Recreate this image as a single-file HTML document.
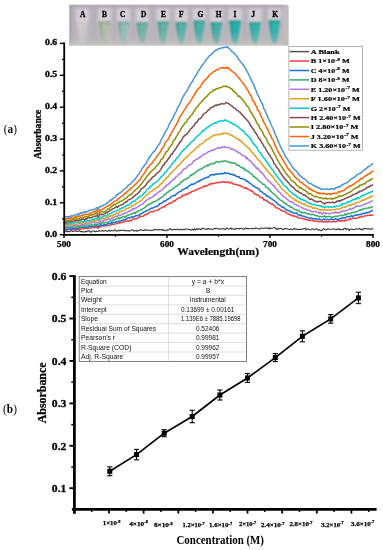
<!DOCTYPE html>
<html><head><meta charset="utf-8"><title>Absorbance spectra and calibration</title>
<style>
html,body{margin:0;padding:0;background:#fff;}
body{width:383px;height:550px;overflow:hidden;}
svg{display:block;}
</style></head><body>
<svg width="383" height="550" viewBox="0 0 383 550">
<defs>
<filter id="blur1" x="-20%" y="-20%" width="140%" height="140%"><feGaussianBlur stdDeviation="0.9"/></filter>
<filter id="blur2" x="-20%" y="-20%" width="140%" height="140%"><feGaussianBlur stdDeviation="1.6"/></filter>
<clipPath id="photoclip"><rect x="69.4" y="4.7" width="219.1" height="40.7"/></clipPath>
</defs>
<rect width="383" height="550" fill="#fff"/>

<g fill="none" stroke-width="1.5" stroke-linejoin="round">
<path d="M64.0,231.2 65.0,231.0 66.1,231.3 67.1,231.6 68.1,231.4 69.2,231.7 70.2,231.1 71.2,230.5 72.2,231.4 73.3,231.5 74.3,230.9 75.3,230.9 76.4,231.1 77.4,231.6 78.4,231.1 79.5,230.7 80.5,231.8 81.5,231.3 82.5,232.0 83.6,231.7 84.6,232.0 85.6,231.2 86.7,231.7 87.7,230.9 88.7,230.9 89.8,231.1 90.8,232.3 91.8,231.2 92.8,231.0 93.9,230.9 94.9,231.7 95.9,231.2 97.0,231.4 98.0,231.3 99.0,230.4 100.1,231.3 101.1,230.9 102.1,230.4 103.1,231.1 104.2,230.9 105.2,230.8 106.2,230.8 107.3,231.4 108.3,230.7 109.3,230.1 110.3,231.5 111.4,230.3 112.4,230.7 113.4,231.0 114.5,229.7 115.5,230.3 116.5,231.3 117.6,230.6 118.6,230.4 119.6,230.7 120.7,230.3 121.7,230.6 122.7,230.3 123.7,229.9 124.8,230.9 125.8,230.5 126.8,230.8 127.9,230.5 128.9,231.1 129.9,230.8 130.9,230.6 132.0,230.0 133.0,229.9 134.0,231.1 135.1,230.8 136.1,230.1 137.1,231.4 138.2,230.6 139.2,230.4 140.2,229.7 141.2,229.9 142.3,230.4 143.3,230.4 144.3,230.4 145.4,229.4 146.4,230.4 147.4,230.3 148.5,230.0 149.5,230.2 150.5,230.2 151.6,230.6 152.6,230.0 153.6,230.2 154.6,229.4 155.7,229.6 156.7,230.0 157.7,229.6 158.8,230.1 159.8,229.3 160.8,229.9 161.9,229.5 162.9,230.5 163.9,229.6 164.9,230.6 166.0,230.8 167.0,229.9 168.0,230.1 169.1,229.6 170.1,228.5 171.1,230.0 172.2,229.9 173.2,229.5 174.2,229.3 175.2,229.6 176.3,229.6 177.3,229.1 178.3,229.2 179.4,230.0 180.4,229.5 181.4,229.4 182.4,229.9 183.5,229.2 184.5,229.8 185.5,228.8 186.6,229.2 187.6,229.2 188.6,229.6 189.7,229.3 190.7,230.2 191.7,229.8 192.8,229.0 193.8,230.3 194.8,228.7 195.8,230.0 196.9,228.7 197.9,229.5 198.9,228.7 200.0,229.0 201.0,229.8 202.0,228.4 203.1,228.3 204.1,229.0 205.1,229.1 206.1,229.0 207.2,229.4 208.2,228.3 209.2,229.2 210.3,228.9 211.3,229.3 212.3,229.2 213.3,229.5 214.4,228.2 215.4,228.9 216.4,228.3 217.5,228.8 218.5,229.1 219.5,228.9 220.6,229.0 221.6,228.7 222.6,228.9 223.7,228.8 224.7,229.4 225.7,229.1 226.7,227.8 227.8,229.0 228.8,229.2 229.8,228.5 230.9,227.9 231.9,229.4 232.9,228.7 234.0,228.9 235.0,229.5 236.0,228.2 237.0,228.6 238.1,228.6 239.1,229.0 240.1,228.3 241.2,228.8 242.2,228.6 243.2,229.1 244.2,229.2 245.3,227.9 246.3,228.8 247.3,228.4 248.4,228.6 249.4,228.8 250.4,228.8 251.5,228.2 252.5,228.7 253.5,228.6 254.6,228.5 255.6,227.9 256.6,228.2 257.6,228.3 258.7,228.8 259.7,229.2 260.7,228.0 261.8,228.0 262.8,228.6 263.8,228.2 264.9,228.1 265.9,228.1 266.9,228.0 267.9,228.7 269.0,227.7 270.0,229.1 271.0,228.0 272.1,228.2 273.1,228.0 274.1,227.5 275.1,227.7 276.2,229.1 277.2,229.4 278.2,228.1 279.3,229.1 280.3,228.6 281.3,228.2 282.4,229.4 283.4,229.7 284.4,228.5 285.5,228.6 286.5,228.8 287.5,228.7 288.5,229.2 289.6,229.5 290.6,228.8 291.6,229.3 292.7,229.6 293.7,228.6 294.7,228.9 295.8,228.7 296.8,229.4 297.8,229.3 298.8,229.5 299.9,229.4 300.9,228.9 301.9,229.4 303.0,228.9 304.0,228.9 305.0,228.1 306.1,229.8 307.1,228.7 308.1,229.2 309.1,229.2 310.2,229.9 311.2,229.4 312.2,228.8 313.3,229.3 314.3,229.2 315.3,229.4 316.4,228.7 317.4,229.3 318.4,230.4 319.4,229.6 320.5,230.3 321.5,230.9 322.5,229.6 323.6,228.6 324.6,229.3 325.6,229.9 326.7,229.8 327.7,228.7 328.7,229.2 329.7,229.3 330.8,229.3 331.8,229.3 332.8,228.9 333.9,229.0 334.9,229.2 335.9,229.8 336.9,229.0 338.0,229.6 339.0,228.7 340.0,229.9 341.1,229.3 342.1,229.3 343.1,229.9 344.2,228.4 345.2,228.5 346.2,229.5 347.2,228.8 348.3,229.0 349.3,230.6 350.3,229.1 351.4,229.2 352.4,229.2 353.4,229.7 354.5,229.3 355.5,229.3 356.5,228.6 357.6,229.0 358.6,229.2 359.6,228.4 360.6,229.4 361.7,229.3 362.7,230.0 363.7,228.3 364.8,228.6 365.8,228.6 366.8,228.7 367.9,229.0 368.9,228.9 369.9,229.1 370.9,229.1 372.0,229.0 373.0,228.2" stroke="#3a3a3a" stroke-width="1.1"/>
<path d="M64.0,229.7 65.0,229.8 66.1,230.0 67.1,229.9 68.1,229.0 69.2,229.4 70.2,229.5 71.2,229.6 72.2,229.8 73.3,229.3 74.3,228.9 75.3,229.3 76.4,229.2 77.4,229.1 78.4,228.9 79.5,229.5 80.5,228.9 81.5,229.0 82.5,228.3 83.6,228.8 84.6,228.2 85.6,227.8 86.7,228.4 87.7,228.4 88.7,228.0 89.8,228.0 90.8,228.2 91.8,227.6 92.8,226.9 93.9,227.7 94.9,227.6 95.9,227.5 97.0,226.7 98.0,228.3 99.0,227.7 100.1,226.1 101.1,226.8 102.1,226.0 103.1,225.7 104.2,226.0 105.2,225.8 106.2,225.0 107.3,225.7 108.3,225.6 109.3,225.6 110.3,224.9 111.4,224.1 112.4,224.0 113.4,224.5 114.5,224.3 115.5,223.9 116.5,223.4 117.6,223.4 118.6,223.0 119.6,222.7 120.7,222.7 121.7,222.4 122.7,222.1 123.7,222.0 124.8,221.5 125.8,220.7 126.8,220.9 127.9,220.9 128.9,221.2 129.9,220.2 130.9,220.8 132.0,220.3 133.0,219.1 134.0,218.8 135.1,218.8 136.1,219.1 137.1,218.3 138.2,218.0 139.2,217.1 140.2,216.1 141.2,216.5 142.3,216.4 143.3,216.1 144.3,215.2 145.4,214.7 146.4,214.6 147.4,213.6 148.5,213.7 149.5,212.4 150.5,212.0 151.6,211.6 152.6,211.8 153.6,211.0 154.6,210.9 155.7,210.6 156.7,210.2 157.7,210.1 158.8,209.7 159.8,208.4 160.8,208.3 161.9,207.6 162.9,206.7 163.9,207.2 164.9,206.2 166.0,205.3 167.0,204.7 168.0,204.4 169.1,203.3 170.1,203.1 171.1,203.1 172.2,202.4 173.2,201.2 174.2,200.8 175.2,201.1 176.3,199.3 177.3,199.0 178.3,198.1 179.4,198.1 180.4,197.5 181.4,197.2 182.4,195.2 183.5,195.7 184.5,194.5 185.5,194.9 186.6,194.1 187.6,194.4 188.6,193.4 189.7,192.4 190.7,192.8 191.7,191.4 192.8,191.1 193.8,191.2 194.8,190.5 195.8,190.0 196.9,189.3 197.9,189.0 198.9,188.7 200.0,188.1 201.0,187.9 202.0,187.6 203.1,186.7 204.1,186.0 205.1,186.5 206.1,185.5 207.2,185.4 208.2,185.2 209.2,184.1 210.3,184.3 211.3,183.3 212.3,183.9 213.3,183.2 214.4,183.2 215.4,183.2 216.4,182.6 217.5,182.7 218.5,182.2 219.5,182.4 220.6,182.6 221.6,182.1 222.6,182.0 223.7,181.6 224.7,182.3 225.7,182.0 226.7,182.6 227.8,181.8 228.8,182.6 229.8,183.1 230.9,182.8 231.9,182.6 232.9,183.9 234.0,184.0 235.0,184.2 236.0,184.7 237.0,184.5 238.1,185.3 239.1,185.6 240.1,185.5 241.2,186.4 242.2,186.4 243.2,187.3 244.2,187.9 245.3,188.6 246.3,187.6 247.3,189.0 248.4,189.3 249.4,190.0 250.4,190.5 251.5,191.2 252.5,191.1 253.5,192.9 254.6,193.7 255.6,194.1 256.6,194.9 257.6,194.8 258.7,195.4 259.7,196.8 260.7,197.6 261.8,197.8 262.8,197.8 263.8,200.1 264.9,199.5 265.9,200.7 266.9,200.6 267.9,202.0 269.0,202.4 270.0,203.5 271.0,203.9 272.1,203.7 273.1,204.6 274.1,205.8 275.1,206.7 276.2,207.8 277.2,207.9 278.2,208.4 279.3,209.0 280.3,209.6 281.3,210.6 282.4,210.8 283.4,211.3 284.4,211.4 285.5,211.7 286.5,213.0 287.5,213.7 288.5,213.9 289.6,214.5 290.6,215.0 291.6,215.1 292.7,215.9 293.7,215.7 294.7,216.3 295.8,216.5 296.8,217.0 297.8,217.5 298.8,217.8 299.9,217.9 300.9,218.2 301.9,218.2 303.0,218.5 304.0,219.3 305.0,219.0 306.1,219.7 307.1,219.7 308.1,219.8 309.1,220.7 310.2,220.1 311.2,220.2 312.2,220.6 313.3,220.8 314.3,221.0 315.3,221.3 316.4,221.2 317.4,221.4 318.4,221.3 319.4,221.9 320.5,221.4 321.5,221.5 322.5,221.7 323.6,221.8 324.6,221.5 325.6,222.3 326.7,221.6 327.7,221.7 328.7,221.6 329.7,221.6 330.8,222.0 331.8,221.8 332.8,221.4 333.9,221.4 334.9,221.4 335.9,222.0 336.9,221.1 338.0,220.8 339.0,220.7 340.0,220.8 341.1,221.4 342.1,220.3 343.1,220.5 344.2,221.2 345.2,219.9 346.2,220.5 347.2,220.2 348.3,219.8 349.3,218.8 350.3,219.3 351.4,218.8 352.4,218.1 353.4,217.9 354.5,218.3 355.5,218.2 356.5,218.4 357.6,217.9 358.6,217.3 359.6,217.1 360.6,217.0 361.7,216.5 362.7,216.9 363.7,216.4 364.8,215.9 365.8,215.8 366.8,215.3 367.9,215.4 368.9,215.4 369.9,215.0 370.9,215.3 372.0,215.3 373.0,214.2" stroke="#F14040"/>
<path d="M64.0,229.1 65.0,228.9 66.1,229.6 67.1,229.0 68.1,229.0 69.2,229.1 70.2,229.5 71.2,228.7 72.2,228.2 73.3,228.3 74.3,228.6 75.3,228.2 76.4,227.9 77.4,229.1 78.4,228.0 79.5,227.7 80.5,227.5 81.5,227.0 82.5,227.2 83.6,227.4 84.6,227.3 85.6,227.0 86.7,227.4 87.7,227.1 88.7,226.6 89.8,226.1 90.8,226.8 91.8,226.6 92.8,226.4 93.9,225.9 94.9,226.3 95.9,225.3 97.0,226.0 98.0,226.7 99.0,226.1 100.1,225.0 101.1,224.8 102.1,225.6 103.1,225.3 104.2,224.6 105.2,224.8 106.2,225.0 107.3,223.7 108.3,223.7 109.3,223.4 110.3,223.5 111.4,222.7 112.4,222.9 113.4,222.1 114.5,222.6 115.5,222.3 116.5,221.7 117.6,221.8 118.6,221.0 119.6,220.9 120.7,221.1 121.7,220.4 122.7,220.3 123.7,219.5 124.8,219.8 125.8,219.4 126.8,218.5 127.9,217.8 128.9,217.6 129.9,218.0 130.9,217.6 132.0,216.7 133.0,217.0 134.0,217.0 135.1,216.2 136.1,215.7 137.1,215.7 138.2,215.6 139.2,215.1 140.2,213.9 141.2,213.9 142.3,213.1 143.3,212.5 144.3,211.7 145.4,211.5 146.4,210.6 147.4,210.6 148.5,209.9 149.5,209.6 150.5,208.3 151.6,208.3 152.6,208.2 153.6,207.6 154.6,207.1 155.7,206.3 156.7,206.7 157.7,206.0 158.8,205.2 159.8,203.5 160.8,203.5 161.9,203.3 162.9,202.3 163.9,201.1 164.9,201.3 166.0,200.7 167.0,199.5 168.0,199.1 169.1,198.4 170.1,198.2 171.1,196.6 172.2,196.1 173.2,195.9 174.2,195.2 175.2,195.6 176.3,193.9 177.3,193.5 178.3,192.5 179.4,191.7 180.4,191.4 181.4,191.2 182.4,189.7 183.5,189.5 184.5,188.8 185.5,188.4 186.6,187.7 187.6,187.9 188.6,186.0 189.7,185.8 190.7,184.9 191.7,184.0 192.8,184.2 193.8,184.3 194.8,183.3 195.8,182.9 196.9,182.1 197.9,181.3 198.9,181.6 200.0,180.2 201.0,180.4 202.0,179.2 203.1,178.9 204.1,178.5 205.1,178.0 206.1,177.7 207.2,177.3 208.2,177.3 209.2,176.2 210.3,175.1 211.3,174.7 212.3,174.7 213.3,174.7 214.4,175.0 215.4,173.9 216.4,174.3 217.5,174.1 218.5,174.0 219.5,173.7 220.6,173.8 221.6,173.5 222.6,173.8 223.7,173.5 224.7,172.5 225.7,173.4 226.7,173.4 227.8,173.2 228.8,173.3 229.8,174.3 230.9,174.3 231.9,174.2 232.9,174.8 234.0,175.2 235.0,175.0 236.0,176.3 237.0,176.4 238.1,177.0 239.1,176.7 240.1,178.5 241.2,178.4 242.2,178.9 243.2,178.9 244.2,179.4 245.3,179.7 246.3,181.4 247.3,181.1 248.4,182.1 249.4,183.0 250.4,183.2 251.5,184.5 252.5,185.6 253.5,185.7 254.6,186.9 255.6,187.3 256.6,187.7 257.6,188.5 258.7,188.8 259.7,190.2 260.7,191.5 261.8,191.9 262.8,192.8 263.8,193.7 264.9,193.8 265.9,195.0 266.9,196.2 267.9,196.0 269.0,197.0 270.0,197.6 271.0,198.4 272.1,199.0 273.1,200.0 274.1,200.4 275.1,201.5 276.2,202.4 277.2,203.2 278.2,204.6 279.3,204.9 280.3,205.6 281.3,206.1 282.4,207.4 283.4,206.9 284.4,208.1 285.5,209.2 286.5,210.0 287.5,210.0 288.5,210.5 289.6,211.2 290.6,211.4 291.6,212.2 292.7,212.2 293.7,213.1 294.7,213.3 295.8,213.3 296.8,213.0 297.8,214.8 298.8,214.9 299.9,215.3 300.9,215.0 301.9,216.1 303.0,216.1 304.0,216.2 305.0,216.8 306.1,217.1 307.1,217.2 308.1,218.0 309.1,218.0 310.2,217.9 311.2,217.9 312.2,218.3 313.3,219.1 314.3,218.8 315.3,218.5 316.4,218.7 317.4,219.1 318.4,219.5 319.4,219.0 320.5,219.6 321.5,219.9 322.5,219.8 323.6,219.0 324.6,219.5 325.6,219.2 326.7,219.8 327.7,219.3 328.7,219.9 329.7,219.7 330.8,218.7 331.8,219.3 332.8,219.7 333.9,219.5 334.9,219.2 335.9,218.8 336.9,219.3 338.0,219.7 339.0,219.0 340.0,218.7 341.1,218.5 342.1,217.8 343.1,218.0 344.2,217.6 345.2,218.1 346.2,217.2 347.2,216.5 348.3,216.8 349.3,216.8 350.3,216.6 351.4,215.7 352.4,216.5 353.4,215.9 354.5,215.5 355.5,215.1 356.5,215.3 357.6,214.8 358.6,214.8 359.6,214.4 360.6,214.2 361.7,214.4 362.7,213.7 363.7,213.1 364.8,213.6 365.8,213.0 366.8,212.4 367.9,212.8 368.9,212.1 369.9,212.3 370.9,211.2 372.0,210.5 373.0,210.4" stroke="#1A6FDF"/>
<path d="M64.0,228.1 65.0,227.6 66.1,227.8 67.1,227.7 68.1,227.0 69.2,228.0 70.2,227.0 71.2,227.4 72.2,226.7 73.3,227.1 74.3,227.3 75.3,226.9 76.4,226.6 77.4,226.7 78.4,226.5 79.5,226.7 80.5,227.2 81.5,226.0 82.5,225.9 83.6,226.0 84.6,225.9 85.6,225.4 86.7,225.9 87.7,225.8 88.7,225.5 89.8,224.8 90.8,225.7 91.8,224.6 92.8,225.1 93.9,225.2 94.9,224.1 95.9,224.2 97.0,224.3 98.0,225.1 99.0,224.0 100.1,223.0 101.1,223.5 102.1,223.0 103.1,222.8 104.2,223.1 105.2,222.5 106.2,222.4 107.3,222.3 108.3,222.0 109.3,221.4 110.3,221.1 111.4,221.0 112.4,220.6 113.4,219.7 114.5,219.8 115.5,219.2 116.5,218.8 117.6,218.7 118.6,217.7 119.6,218.6 120.7,217.7 121.7,217.8 122.7,216.6 123.7,216.3 124.8,217.4 125.8,216.6 126.8,215.7 127.9,215.2 128.9,214.9 129.9,214.8 130.9,214.2 132.0,213.7 133.0,213.5 134.0,212.7 135.1,213.5 136.1,211.9 137.1,212.1 138.2,210.8 139.2,210.7 140.2,210.4 141.2,209.4 142.3,209.2 143.3,208.5 144.3,208.1 145.4,206.8 146.4,206.0 147.4,205.1 148.5,204.9 149.5,203.9 150.5,203.7 151.6,203.2 152.6,202.4 153.6,201.7 154.6,201.7 155.7,201.1 156.7,200.5 157.7,199.8 158.8,199.5 159.8,198.1 160.8,198.0 161.9,196.9 162.9,196.6 163.9,195.3 164.9,194.5 166.0,194.0 167.0,192.3 168.0,192.2 169.1,190.9 170.1,190.4 171.1,190.3 172.2,189.4 173.2,188.3 174.2,187.7 175.2,186.9 176.3,186.2 177.3,186.0 178.3,184.5 179.4,184.4 180.4,182.5 181.4,182.1 182.4,181.3 183.5,180.4 184.5,179.5 185.5,179.5 186.6,178.9 187.6,178.0 188.6,177.8 189.7,176.7 190.7,175.0 191.7,175.3 192.8,173.9 193.8,174.0 194.8,172.7 195.8,172.2 196.9,171.5 197.9,170.6 198.9,169.5 200.0,169.5 201.0,168.9 202.0,168.8 203.1,167.6 204.1,167.3 205.1,166.4 206.1,166.2 207.2,165.0 208.2,165.9 209.2,164.7 210.3,163.8 211.3,163.9 212.3,163.8 213.3,163.2 214.4,163.4 215.4,162.5 216.4,161.4 217.5,161.7 218.5,162.3 219.5,162.1 220.6,161.7 221.6,161.0 222.6,161.6 223.7,161.5 224.7,160.9 225.7,160.9 226.7,161.3 227.8,161.7 228.8,162.1 229.8,162.1 230.9,163.1 231.9,162.4 232.9,163.3 234.0,163.3 235.0,163.2 236.0,163.9 237.0,165.3 238.1,165.1 239.1,165.5 240.1,166.7 241.2,167.4 242.2,167.6 243.2,168.8 244.2,168.2 245.3,170.3 246.3,170.5 247.3,170.9 248.4,171.7 249.4,172.4 250.4,173.2 251.5,174.2 252.5,174.5 253.5,176.7 254.6,176.7 255.6,177.9 256.6,178.5 257.6,179.4 258.7,180.8 259.7,181.6 260.7,181.9 261.8,183.0 262.8,184.3 263.8,184.2 264.9,185.0 265.9,187.4 266.9,187.6 267.9,187.7 269.0,189.2 270.0,190.3 271.0,191.4 272.1,192.5 273.1,193.3 274.1,194.4 275.1,194.9 276.2,196.4 277.2,197.3 278.2,198.5 279.3,198.9 280.3,200.1 281.3,200.7 282.4,201.0 283.4,202.1 284.4,202.8 285.5,203.6 286.5,204.4 287.5,205.1 288.5,205.8 289.6,206.0 290.6,207.3 291.6,207.0 292.7,208.0 293.7,208.9 294.7,209.2 295.8,209.8 296.8,209.9 297.8,210.7 298.8,210.4 299.9,211.5 300.9,212.4 301.9,212.2 303.0,213.0 304.0,212.6 305.0,212.5 306.1,213.0 307.1,214.0 308.1,214.1 309.1,213.5 310.2,214.3 311.2,214.7 312.2,214.6 313.3,214.3 314.3,215.0 315.3,215.6 316.4,215.7 317.4,215.7 318.4,216.4 319.4,216.7 320.5,216.4 321.5,216.9 322.5,216.6 323.6,216.6 324.6,215.8 325.6,217.0 326.7,216.8 327.7,216.8 328.7,216.6 329.7,216.4 330.8,216.9 331.8,217.0 332.8,217.2 333.9,216.8 334.9,216.2 335.9,216.2 336.9,216.5 338.0,216.1 339.0,215.8 340.0,215.4 341.1,215.6 342.1,215.2 343.1,215.6 344.2,215.1 345.2,213.8 346.2,215.0 347.2,214.0 348.3,213.5 349.3,213.5 350.3,213.4 351.4,212.8 352.4,212.5 353.4,212.3 354.5,212.7 355.5,211.7 356.5,211.7 357.6,211.3 358.6,210.7 359.6,210.2 360.6,209.8 361.7,210.1 362.7,209.2 363.7,208.8 364.8,208.5 365.8,208.1 366.8,208.4 367.9,208.1 368.9,207.5 369.9,208.0 370.9,207.1 372.0,207.1 373.0,206.7" stroke="#37AD6B"/>
<path d="M64.0,227.3 65.0,226.9 66.1,226.5 67.1,226.0 68.1,225.9 69.2,226.2 70.2,226.1 71.2,226.3 72.2,225.7 73.3,225.8 74.3,225.4 75.3,224.8 76.4,225.4 77.4,225.8 78.4,225.4 79.5,225.5 80.5,225.3 81.5,224.2 82.5,224.5 83.6,225.0 84.6,224.0 85.6,223.6 86.7,224.1 87.7,224.1 88.7,223.8 89.8,223.4 90.8,223.1 91.8,222.7 92.8,222.5 93.9,222.4 94.9,222.1 95.9,221.9 97.0,222.4 98.0,223.0 99.0,222.2 100.1,221.5 101.1,220.9 102.1,221.2 103.1,221.2 104.2,220.1 105.2,220.1 106.2,220.0 107.3,219.4 108.3,219.0 109.3,218.9 110.3,219.5 111.4,218.4 112.4,218.0 113.4,217.8 114.5,217.0 115.5,216.2 116.5,216.5 117.6,216.4 118.6,214.8 119.6,215.4 120.7,215.3 121.7,214.4 122.7,213.9 123.7,213.9 124.8,212.9 125.8,213.0 126.8,212.7 127.9,211.8 128.9,211.1 129.9,211.2 130.9,210.4 132.0,210.0 133.0,208.4 134.0,209.2 135.1,207.9 136.1,207.9 137.1,207.3 138.2,206.4 139.2,205.7 140.2,204.9 141.2,204.6 142.3,204.2 143.3,203.4 144.3,202.2 145.4,201.3 146.4,200.2 147.4,199.8 148.5,198.8 149.5,197.9 150.5,197.7 151.6,197.7 152.6,196.9 153.6,196.4 154.6,194.6 155.7,194.9 156.7,193.4 157.7,193.0 158.8,191.8 159.8,191.2 160.8,190.8 161.9,190.0 162.9,188.9 163.9,187.9 164.9,187.2 166.0,186.1 167.0,184.6 168.0,184.9 169.1,183.2 170.1,182.8 171.1,181.4 172.2,180.3 173.2,179.7 174.2,178.4 175.2,178.4 176.3,176.4 177.3,176.1 178.3,174.6 179.4,173.7 180.4,173.7 181.4,172.0 182.4,170.7 183.5,169.3 184.5,169.0 185.5,168.2 186.6,168.0 187.6,166.2 188.6,165.3 189.7,165.1 190.7,164.4 191.7,164.1 192.8,162.3 193.8,160.8 194.8,160.7 195.8,159.6 196.9,159.1 197.9,158.9 198.9,157.3 200.0,157.6 201.0,156.5 202.0,155.6 203.1,154.7 204.1,154.2 205.1,153.6 206.1,153.4 207.2,152.9 208.2,151.8 209.2,151.5 210.3,151.2 211.3,150.7 212.3,150.0 213.3,150.2 214.4,149.6 215.4,149.4 216.4,148.4 217.5,148.1 218.5,147.2 219.5,148.3 220.6,147.8 221.6,147.0 222.6,147.3 223.7,147.3 224.7,146.5 225.7,147.3 226.7,147.6 227.8,147.7 228.8,147.4 229.8,147.8 230.9,148.9 231.9,149.3 232.9,149.2 234.0,149.7 235.0,150.6 236.0,150.7 237.0,151.3 238.1,152.8 239.1,152.9 240.1,153.2 241.2,154.3 242.2,155.5 243.2,155.5 244.2,155.9 245.3,156.3 246.3,158.6 247.3,157.6 248.4,160.0 249.4,160.1 250.4,161.0 251.5,162.2 252.5,163.5 253.5,165.0 254.6,165.4 255.6,167.0 256.6,168.8 257.6,167.9 258.7,169.8 259.7,170.4 260.7,172.6 261.8,172.8 262.8,173.8 263.8,174.9 264.9,176.6 265.9,178.1 266.9,178.8 267.9,180.7 269.0,181.6 270.0,182.0 271.0,183.5 272.1,184.2 273.1,185.4 274.1,185.8 275.1,187.2 276.2,188.9 277.2,189.5 278.2,191.4 279.3,192.2 280.3,192.8 281.3,194.6 282.4,195.2 283.4,196.5 284.4,196.9 285.5,197.2 286.5,198.9 287.5,199.3 288.5,200.5 289.6,201.4 290.6,202.1 291.6,201.8 292.7,202.1 293.7,203.4 294.7,204.5 295.8,204.5 296.8,205.4 297.8,205.5 298.8,206.1 299.9,206.6 300.9,206.9 301.9,207.8 303.0,208.1 304.0,209.0 305.0,208.9 306.1,209.7 307.1,209.6 308.1,210.2 309.1,210.2 310.2,210.4 311.2,211.5 312.2,211.6 313.3,211.9 314.3,211.5 315.3,211.4 316.4,211.9 317.4,212.6 318.4,212.1 319.4,213.4 320.5,212.4 321.5,213.3 322.5,214.2 323.6,212.2 324.6,212.7 325.6,213.7 326.7,213.3 327.7,213.4 328.7,213.3 329.7,213.9 330.8,213.6 331.8,213.1 332.8,213.1 333.9,212.6 334.9,212.9 335.9,211.9 336.9,212.9 338.0,212.3 339.0,213.0 340.0,212.5 341.1,211.2 342.1,211.8 343.1,211.0 344.2,210.9 345.2,211.0 346.2,210.4 347.2,210.1 348.3,209.8 349.3,209.0 350.3,208.8 351.4,208.9 352.4,208.7 353.4,207.9 354.5,207.7 355.5,206.9 356.5,205.9 357.6,206.2 358.6,206.2 359.6,205.9 360.6,205.8 361.7,205.5 362.7,205.2 363.7,204.6 364.8,204.3 365.8,203.5 366.8,203.5 367.9,203.1 368.9,203.1 369.9,201.7 370.9,201.7 372.0,200.9 373.0,200.9" stroke="#B177DE"/>
<path d="M64.0,224.8 65.0,225.4 66.1,224.9 67.1,224.0 68.1,225.4 69.2,224.4 70.2,224.0 71.2,224.4 72.2,224.1 73.3,223.8 74.3,224.4 75.3,223.9 76.4,224.2 77.4,224.0 78.4,223.8 79.5,223.5 80.5,223.2 81.5,222.9 82.5,223.5 83.6,222.0 84.6,222.2 85.6,222.2 86.7,222.4 87.7,222.1 88.7,221.7 89.8,221.5 90.8,222.2 91.8,221.0 92.8,220.0 93.9,221.7 94.9,220.4 95.9,220.1 97.0,219.9 98.0,220.5 99.0,220.8 100.1,219.3 101.1,218.6 102.1,219.0 103.1,218.9 104.2,218.4 105.2,218.4 106.2,217.2 107.3,217.8 108.3,216.7 109.3,217.1 110.3,215.8 111.4,215.7 112.4,216.2 113.4,214.7 114.5,214.7 115.5,214.1 116.5,212.9 117.6,213.5 118.6,213.0 119.6,211.6 120.7,211.7 121.7,210.7 122.7,210.7 123.7,210.7 124.8,209.9 125.8,208.9 126.8,208.5 127.9,208.4 128.9,207.8 129.9,207.3 130.9,207.0 132.0,205.4 133.0,205.6 134.0,205.4 135.1,204.5 136.1,203.4 137.1,202.8 138.2,202.4 139.2,201.9 140.2,200.9 141.2,200.7 142.3,199.7 143.3,197.9 144.3,197.5 145.4,196.2 146.4,194.9 147.4,194.3 148.5,193.6 149.5,192.0 150.5,191.8 151.6,191.4 152.6,190.2 153.6,189.6 154.6,189.4 155.7,188.3 156.7,187.6 157.7,187.5 158.8,185.9 159.8,185.0 160.8,184.1 161.9,183.5 162.9,181.9 163.9,180.7 164.9,179.5 166.0,178.9 167.0,177.2 168.0,176.8 169.1,175.4 170.1,173.7 171.1,173.4 172.2,172.3 173.2,170.6 174.2,170.1 175.2,169.0 176.3,167.7 177.3,166.2 178.3,166.3 179.4,164.6 180.4,163.4 181.4,162.3 182.4,161.1 183.5,160.1 184.5,158.7 185.5,158.2 186.6,156.9 187.6,155.9 188.6,155.4 189.7,154.2 190.7,152.6 191.7,152.2 192.8,151.6 193.8,150.4 194.8,149.7 195.8,148.3 196.9,147.2 197.9,146.9 198.9,145.8 200.0,144.5 201.0,144.3 202.0,143.2 203.1,142.9 204.1,142.1 205.1,141.2 206.1,139.4 207.2,139.7 208.2,139.0 209.2,138.3 210.3,137.6 211.3,136.7 212.3,136.4 213.3,135.3 214.4,135.6 215.4,134.7 216.4,134.8 217.5,134.4 218.5,134.9 219.5,134.2 220.6,133.9 221.6,133.7 222.6,134.3 223.7,133.0 224.7,133.5 225.7,133.6 226.7,133.5 227.8,133.6 228.8,133.7 229.8,134.8 230.9,135.2 231.9,135.3 232.9,136.0 234.0,136.7 235.0,137.4 236.0,138.1 237.0,138.5 238.1,138.7 239.1,140.3 240.1,140.0 241.2,141.1 242.2,142.3 243.2,142.7 244.2,144.4 245.3,145.4 246.3,146.2 247.3,146.8 248.4,147.9 249.4,149.1 250.4,150.0 251.5,152.0 252.5,152.2 253.5,154.1 254.6,155.1 255.6,156.2 256.6,157.8 257.6,159.2 258.7,160.3 259.7,161.2 260.7,162.2 261.8,163.5 262.8,165.3 263.8,166.5 264.9,167.8 265.9,168.6 266.9,170.8 267.9,170.8 269.0,172.7 270.0,174.0 271.0,174.9 272.1,175.9 273.1,177.5 274.1,178.5 275.1,180.3 276.2,181.2 277.2,182.5 278.2,184.3 279.3,184.9 280.3,186.6 281.3,187.7 282.4,189.2 283.4,190.1 284.4,190.7 285.5,192.5 286.5,192.7 287.5,193.8 288.5,194.7 289.6,196.5 290.6,196.5 291.6,197.0 292.7,198.3 293.7,198.7 294.7,200.4 295.8,199.8 296.8,200.9 297.8,200.9 298.8,202.5 299.9,202.1 300.9,203.0 301.9,203.0 303.0,204.2 304.0,204.5 305.0,203.9 306.1,205.5 307.1,205.9 308.1,206.1 309.1,206.8 310.2,206.4 311.2,206.6 312.2,207.9 313.3,208.6 314.3,207.8 315.3,208.1 316.4,208.5 317.4,208.5 318.4,209.5 319.4,209.5 320.5,210.1 321.5,210.2 322.5,209.4 323.6,210.1 324.6,209.1 325.6,209.9 326.7,210.3 327.7,209.7 328.7,209.4 329.7,209.9 330.8,210.5 331.8,209.8 332.8,209.3 333.9,209.9 334.9,209.8 335.9,209.0 336.9,209.1 338.0,209.4 339.0,208.9 340.0,208.8 341.1,208.1 342.1,207.8 343.1,207.1 344.2,206.9 345.2,207.4 346.2,206.3 347.2,205.8 348.3,205.6 349.3,205.0 350.3,205.2 351.4,205.0 352.4,203.9 353.4,204.2 354.5,204.2 355.5,202.6 356.5,202.9 357.6,202.3 358.6,202.3 359.6,201.9 360.6,201.4 361.7,200.7 362.7,200.0 363.7,200.6 364.8,199.0 365.8,199.4 366.8,198.9 367.9,197.8 368.9,197.7 369.9,197.8 370.9,196.1 372.0,196.7 373.0,195.9" stroke="#E0A020"/>
<path d="M64.0,224.2 65.0,223.6 66.1,224.2 67.1,223.5 68.1,224.0 69.2,223.1 70.2,223.7 71.2,223.4 72.2,222.4 73.3,222.9 74.3,222.8 75.3,221.8 76.4,222.4 77.4,222.7 78.4,221.9 79.5,222.5 80.5,221.4 81.5,221.2 82.5,221.7 83.6,221.5 84.6,221.0 85.6,220.9 86.7,221.1 87.7,220.3 88.7,221.1 89.8,220.2 90.8,220.0 91.8,219.7 92.8,219.3 93.9,219.7 94.9,218.8 95.9,218.5 97.0,218.3 98.0,219.8 99.0,218.9 100.1,217.3 101.1,217.6 102.1,217.0 103.1,216.3 104.2,216.1 105.2,215.5 106.2,215.9 107.3,215.7 108.3,214.4 109.3,214.2 110.3,213.4 111.4,213.3 112.4,212.3 113.4,211.9 114.5,211.5 115.5,211.1 116.5,210.7 117.6,210.3 118.6,209.8 119.6,209.0 120.7,209.1 121.7,207.7 122.7,207.9 123.7,207.0 124.8,206.8 125.8,206.3 126.8,204.9 127.9,205.2 128.9,205.0 129.9,204.1 130.9,203.3 132.0,201.8 133.0,201.8 134.0,200.9 135.1,200.9 136.1,199.7 137.1,198.8 138.2,197.6 139.2,197.8 140.2,196.4 141.2,195.6 142.3,195.1 143.3,193.7 144.3,192.7 145.4,192.4 146.4,190.3 147.4,189.3 148.5,188.6 149.5,188.1 150.5,186.1 151.6,185.7 152.6,184.6 153.6,183.6 154.6,183.5 155.7,182.1 156.7,181.7 157.7,180.7 158.8,179.7 159.8,178.6 160.8,177.1 161.9,176.3 162.9,175.2 163.9,174.0 164.9,172.5 166.0,171.8 167.0,170.4 168.0,169.0 169.1,168.0 170.1,166.7 171.1,165.7 172.2,163.5 173.2,162.5 174.2,161.6 175.2,160.6 176.3,158.5 177.3,157.9 178.3,156.8 179.4,155.2 180.4,153.9 181.4,152.1 182.4,151.4 183.5,149.5 184.5,149.5 185.5,147.9 186.6,147.5 187.6,145.5 188.6,145.3 189.7,144.1 190.7,142.7 191.7,141.4 192.8,141.2 193.8,139.8 194.8,139.2 195.8,137.5 196.9,136.6 197.9,135.6 198.9,134.8 200.0,133.8 201.0,133.0 202.0,131.6 203.1,130.3 204.1,130.8 205.1,129.2 206.1,128.5 207.2,127.3 208.2,127.1 209.2,126.0 210.3,125.6 211.3,124.4 212.3,124.1 213.3,123.7 214.4,123.0 215.4,122.8 216.4,123.0 217.5,121.8 218.5,121.6 219.5,121.5 220.6,120.8 221.6,120.4 222.6,121.1 223.7,120.9 224.7,120.0 225.7,120.1 226.7,120.9 227.8,121.2 228.8,121.3 229.8,121.8 230.9,122.9 231.9,122.9 232.9,124.1 234.0,124.7 235.0,124.5 236.0,125.8 237.0,126.4 238.1,126.9 239.1,127.6 240.1,128.9 241.2,129.6 242.2,130.8 243.2,130.8 244.2,132.1 245.3,133.8 246.3,134.5 247.3,135.3 248.4,136.6 249.4,137.4 250.4,138.8 251.5,140.9 252.5,142.1 253.5,143.9 254.6,144.7 255.6,146.1 256.6,146.6 257.6,149.0 258.7,151.3 259.7,152.2 260.7,153.3 261.8,155.2 262.8,156.5 263.8,157.7 264.9,158.9 265.9,160.5 266.9,162.2 267.9,163.0 269.0,164.9 270.0,166.3 271.0,168.0 272.1,169.2 273.1,170.2 274.1,172.6 275.1,173.5 276.2,174.8 277.2,176.7 278.2,177.8 279.3,179.7 280.3,180.1 281.3,181.5 282.4,183.0 283.4,185.0 284.4,185.9 285.5,186.3 286.5,187.1 287.5,188.7 288.5,189.3 289.6,191.0 290.6,191.7 291.6,192.6 292.7,193.3 293.7,194.8 294.7,194.7 295.8,195.2 296.8,196.9 297.8,197.6 298.8,197.6 299.9,198.6 300.9,199.8 301.9,199.1 303.0,199.9 304.0,200.7 305.0,200.2 306.1,201.4 307.1,202.2 308.1,202.4 309.1,203.3 310.2,203.7 311.2,203.7 312.2,204.4 313.3,204.8 314.3,204.3 315.3,204.9 316.4,205.2 317.4,205.6 318.4,205.8 319.4,205.7 320.5,206.4 321.5,205.9 322.5,207.1 323.6,206.9 324.6,207.4 325.6,207.0 326.7,206.7 327.7,206.4 328.7,207.2 329.7,207.0 330.8,207.1 331.8,207.1 332.8,207.2 333.9,206.5 334.9,207.0 335.9,206.1 336.9,206.0 338.0,206.0 339.0,205.9 340.0,205.7 341.1,204.1 342.1,205.0 343.1,203.5 344.2,203.5 345.2,203.5 346.2,203.4 347.2,202.1 348.3,201.5 349.3,202.1 350.3,201.4 351.4,200.4 352.4,200.3 353.4,199.2 354.5,199.7 355.5,198.8 356.5,199.0 357.6,197.3 358.6,197.9 359.6,198.0 360.6,196.8 361.7,196.3 362.7,195.1 363.7,195.5 364.8,194.9 365.8,194.2 366.8,193.4 367.9,193.5 368.9,192.6 369.9,192.3 370.9,192.2 372.0,191.5 373.0,191.1" stroke="#00CBCC"/>
<path d="M64.0,223.0 65.0,222.0 66.1,222.9 67.1,221.8 68.1,221.7 69.2,221.9 70.2,222.0 71.2,221.6 72.2,221.2 73.3,220.9 74.3,220.9 75.3,220.5 76.4,220.9 77.4,220.4 78.4,220.9 79.5,219.8 80.5,219.8 81.5,219.8 82.5,219.0 83.6,219.0 84.6,220.1 85.6,218.8 86.7,219.1 87.7,217.9 88.7,217.1 89.8,218.0 90.8,217.6 91.8,217.5 92.8,217.0 93.9,216.6 94.9,216.1 95.9,216.4 97.0,214.9 98.0,217.2 99.0,215.9 100.1,214.4 101.1,214.3 102.1,214.7 103.1,214.3 104.2,213.9 105.2,213.4 106.2,212.5 107.3,212.9 108.3,211.7 109.3,211.0 110.3,210.4 111.4,209.9 112.4,208.9 113.4,208.7 114.5,208.0 115.5,207.6 116.5,206.6 117.6,207.4 118.6,205.7 119.6,205.7 120.7,205.1 121.7,204.8 122.7,204.6 123.7,203.4 124.8,202.9 125.8,201.8 126.8,201.9 127.9,200.1 128.9,199.8 129.9,199.3 130.9,198.8 132.0,198.1 133.0,197.4 134.0,196.4 135.1,195.4 136.1,194.6 137.1,194.2 138.2,192.9 139.2,192.2 140.2,190.8 141.2,189.1 142.3,188.4 143.3,187.6 144.3,186.9 145.4,185.6 146.4,184.5 147.4,182.4 148.5,181.8 149.5,180.4 150.5,179.7 151.6,178.4 152.6,176.9 153.6,176.8 154.6,175.7 155.7,174.9 156.7,173.2 157.7,172.9 158.8,171.8 159.8,170.7 160.8,169.4 161.9,167.4 162.9,165.2 163.9,165.1 164.9,162.9 166.0,161.8 167.0,160.9 168.0,159.2 169.1,157.8 170.1,156.6 171.1,154.2 172.2,154.3 173.2,152.0 174.2,150.7 175.2,149.6 176.3,147.9 177.3,146.1 178.3,144.9 179.4,143.2 180.4,141.5 181.4,141.1 182.4,138.3 183.5,136.7 184.5,135.9 185.5,134.7 186.6,134.5 187.6,132.8 188.6,131.9 189.7,130.6 190.7,128.8 191.7,128.2 192.8,126.7 193.8,126.1 194.8,124.2 195.8,122.8 196.9,121.9 197.9,120.8 198.9,118.7 200.0,118.8 201.0,117.7 202.0,116.5 203.1,114.7 204.1,113.4 205.1,113.1 206.1,112.5 207.2,111.5 208.2,110.0 209.2,109.8 210.3,108.1 211.3,107.5 212.3,107.4 213.3,106.6 214.4,106.0 215.4,105.2 216.4,105.8 217.5,104.5 218.5,104.8 219.5,104.6 220.6,103.9 221.6,103.7 222.6,103.8 223.7,103.9 224.7,103.7 225.7,102.8 226.7,102.6 227.8,103.2 228.8,103.5 229.8,104.7 230.9,105.3 231.9,105.9 232.9,107.2 234.0,107.9 235.0,108.2 236.0,109.2 237.0,110.4 238.1,110.7 239.1,111.9 240.1,112.3 241.2,113.7 242.2,114.9 243.2,115.8 244.2,117.0 245.3,118.3 246.3,119.5 247.3,120.3 248.4,121.7 249.4,122.9 250.4,125.6 251.5,126.6 252.5,128.2 253.5,129.5 254.6,131.3 255.6,133.0 256.6,134.1 257.6,136.0 258.7,138.2 259.7,138.9 260.7,140.7 261.8,142.9 262.8,144.0 263.8,146.2 264.9,147.2 265.9,149.3 266.9,151.2 267.9,152.6 269.0,154.4 270.0,155.6 271.0,157.3 272.1,159.0 273.1,160.9 274.1,163.9 275.1,164.2 276.2,166.8 277.2,167.7 278.2,168.9 279.3,170.8 280.3,172.6 281.3,174.0 282.4,175.4 283.4,177.0 284.4,178.3 285.5,179.8 286.5,180.2 287.5,181.9 288.5,182.6 289.6,184.2 290.6,185.2 291.6,186.3 292.7,187.0 293.7,187.8 294.7,189.0 295.8,190.1 296.8,191.0 297.8,190.8 298.8,192.2 299.9,192.9 300.9,192.9 301.9,193.7 303.0,194.5 304.0,195.5 305.0,195.0 306.1,196.3 307.1,196.8 308.1,197.7 309.1,198.7 310.2,199.2 311.2,199.0 312.2,199.5 313.3,200.2 314.3,201.0 315.3,201.4 316.4,201.3 317.4,202.0 318.4,201.4 319.4,201.5 320.5,201.1 321.5,202.0 322.5,202.7 323.6,202.9 324.6,204.0 325.6,202.9 326.7,202.8 327.7,202.4 328.7,202.6 329.7,202.6 330.8,202.7 331.8,202.4 332.8,202.0 333.9,202.8 334.9,202.3 335.9,202.4 336.9,201.1 338.0,200.9 339.0,200.8 340.0,201.2 341.1,200.3 342.1,200.0 343.1,199.5 344.2,199.1 345.2,198.4 346.2,198.3 347.2,197.4 348.3,197.1 349.3,196.9 350.3,196.3 351.4,195.9 352.4,194.9 353.4,194.8 354.5,194.1 355.5,193.8 356.5,193.7 357.6,192.3 358.6,192.5 359.6,191.3 360.6,190.9 361.7,191.1 362.7,190.3 363.7,189.6 364.8,189.2 365.8,188.8 366.8,187.5 367.9,187.4 368.9,186.6 369.9,186.4 370.9,185.5 372.0,185.4 373.0,184.5" stroke="#7D4E4E"/>
<path d="M64.0,220.9 65.0,220.9 66.1,221.0 67.1,221.0 68.1,220.4 69.2,220.1 70.2,220.2 71.2,220.2 72.2,219.5 73.3,218.5 74.3,219.4 75.3,219.0 76.4,218.7 77.4,219.6 78.4,218.4 79.5,218.5 80.5,217.5 81.5,217.9 82.5,217.8 83.6,217.4 84.6,217.0 85.6,217.0 86.7,216.5 87.7,216.8 88.7,216.1 89.8,215.4 90.8,214.7 91.8,214.9 92.8,214.8 93.9,214.2 94.9,214.0 95.9,213.0 97.0,212.7 98.0,214.6 99.0,213.5 100.1,212.3 101.1,212.0 102.1,211.7 103.1,211.8 104.2,211.9 105.2,211.0 106.2,211.0 107.3,209.6 108.3,209.0 109.3,209.0 110.3,207.4 111.4,206.6 112.4,206.3 113.4,205.0 114.5,204.3 115.5,204.9 116.5,203.4 117.6,203.0 118.6,202.4 119.6,201.6 120.7,201.6 121.7,200.9 122.7,200.3 123.7,199.6 124.8,198.6 125.8,198.4 126.8,197.5 127.9,196.1 128.9,195.6 129.9,194.6 130.9,194.7 132.0,193.4 133.0,192.5 134.0,191.4 135.1,190.7 136.1,189.2 137.1,188.6 138.2,187.5 139.2,186.5 140.2,185.1 141.2,184.4 142.3,182.5 143.3,181.4 144.3,180.1 145.4,178.8 146.4,177.2 147.4,175.7 148.5,174.4 149.5,173.5 150.5,172.1 151.6,171.3 152.6,169.8 153.6,169.2 154.6,168.9 155.7,166.5 156.7,165.8 157.7,165.1 158.8,163.5 159.8,162.4 160.8,159.8 161.9,158.9 162.9,158.1 163.9,155.7 164.9,154.4 166.0,151.9 167.0,151.5 168.0,150.4 169.1,148.0 170.1,146.6 171.1,145.1 172.2,144.2 173.2,141.6 174.2,139.5 175.2,139.3 176.3,136.5 177.3,135.5 178.3,132.7 179.4,131.7 180.4,130.1 181.4,127.9 182.4,126.5 183.5,125.5 184.5,123.6 185.5,122.7 186.6,121.9 187.6,119.1 188.6,118.7 189.7,117.4 190.7,115.7 191.7,115.0 192.8,113.5 193.8,111.7 194.8,110.3 195.8,108.7 196.9,106.9 197.9,106.3 198.9,104.6 200.0,103.4 201.0,102.8 202.0,101.1 203.1,100.4 204.1,98.5 205.1,97.7 206.1,96.8 207.2,96.2 208.2,94.6 209.2,93.9 210.3,92.4 211.3,92.0 212.3,91.6 213.3,90.3 214.4,89.8 215.4,89.7 216.4,88.6 217.5,88.7 218.5,88.3 219.5,87.7 220.6,87.7 221.6,87.2 222.6,86.9 223.7,86.1 224.7,86.1 225.7,86.8 226.7,86.1 227.8,86.9 228.8,87.2 229.8,87.7 230.9,88.8 231.9,88.8 232.9,90.5 234.0,91.8 235.0,91.8 236.0,93.3 237.0,94.3 238.1,96.3 239.1,95.9 240.1,97.0 241.2,98.1 242.2,99.2 243.2,100.1 244.2,102.0 245.3,103.0 246.3,105.0 247.3,106.3 248.4,107.3 249.4,109.2 250.4,111.6 251.5,112.6 252.5,114.6 253.5,116.6 254.6,117.9 255.6,120.1 256.6,122.4 257.6,124.1 258.7,124.8 259.7,127.9 260.7,129.1 261.8,130.8 262.8,132.6 263.8,135.2 264.9,136.7 265.9,138.4 266.9,140.0 267.9,142.3 269.0,144.3 270.0,145.3 271.0,147.1 272.1,149.3 273.1,151.6 274.1,153.2 275.1,155.3 276.2,157.0 277.2,159.8 278.2,161.1 279.3,162.9 280.3,165.0 281.3,166.2 282.4,167.9 283.4,169.6 284.4,170.8 285.5,173.0 286.5,173.9 287.5,175.0 288.5,176.4 289.6,177.3 290.6,179.4 291.6,180.7 292.7,181.1 293.7,182.1 294.7,182.5 295.8,184.0 296.8,185.5 297.8,185.7 298.8,187.1 299.9,188.1 300.9,187.3 301.9,188.9 303.0,189.4 304.0,190.2 305.0,190.3 306.1,191.5 307.1,191.8 308.1,193.3 309.1,194.1 310.2,193.6 311.2,194.2 312.2,195.1 313.3,195.7 314.3,196.1 315.3,196.9 316.4,196.3 317.4,197.0 318.4,197.4 319.4,197.7 320.5,197.7 321.5,198.1 322.5,198.2 323.6,199.0 324.6,198.4 325.6,197.9 326.7,198.9 327.7,198.8 328.7,198.5 329.7,198.5 330.8,198.5 331.8,199.3 332.8,198.3 333.9,198.7 334.9,198.4 335.9,197.6 336.9,197.6 338.0,196.9 339.0,195.7 340.0,196.2 341.1,195.8 342.1,195.9 343.1,195.3 344.2,195.0 345.2,194.3 346.2,194.0 347.2,193.3 348.3,192.6 349.3,192.4 350.3,192.0 351.4,191.4 352.4,190.1 353.4,189.7 354.5,188.7 355.5,188.1 356.5,188.0 357.6,187.1 358.6,187.3 359.6,185.3 360.6,185.1 361.7,185.0 362.7,184.8 363.7,183.6 364.8,183.9 365.8,182.8 366.8,181.6 367.9,181.3 368.9,180.9 369.9,179.7 370.9,179.9 372.0,178.7 373.0,178.4" stroke="#8E8E00"/>
<path d="M64.0,219.7 65.0,219.0 66.1,219.4 67.1,218.1 68.1,218.8 69.2,217.6 70.2,218.6 71.2,217.7 72.2,218.2 73.3,218.0 74.3,217.2 75.3,216.8 76.4,217.3 77.4,216.1 78.4,216.6 79.5,216.0 80.5,215.7 81.5,215.3 82.5,216.0 83.6,214.4 84.6,214.5 85.6,214.6 86.7,214.5 87.7,214.5 88.7,214.1 89.8,213.0 90.8,213.1 91.8,213.1 92.8,212.5 93.9,211.4 94.9,211.8 95.9,211.2 97.0,209.9 98.0,211.7 99.0,210.8 100.1,209.8 101.1,209.8 102.1,209.3 103.1,208.7 104.2,208.2 105.2,207.5 106.2,206.8 107.3,206.3 108.3,205.6 109.3,205.3 110.3,205.0 111.4,203.6 112.4,203.0 113.4,202.2 114.5,201.3 115.5,201.0 116.5,200.3 117.6,199.2 118.6,198.4 119.6,198.0 120.7,196.8 121.7,196.3 122.7,195.9 123.7,194.7 124.8,193.2 125.8,193.4 126.8,191.8 127.9,190.9 128.9,190.0 129.9,189.9 130.9,187.9 132.0,187.7 133.0,186.9 134.0,185.9 135.1,184.5 136.1,183.7 137.1,182.7 138.2,181.0 139.2,180.6 140.2,179.4 141.2,177.4 142.3,175.9 143.3,174.3 144.3,173.5 145.4,171.2 146.4,169.8 147.4,167.8 148.5,167.5 149.5,165.6 150.5,164.5 151.6,163.8 152.6,162.2 153.6,160.3 154.6,159.7 155.7,158.5 156.7,156.6 157.7,155.2 158.8,153.8 159.8,152.9 160.8,151.0 161.9,148.9 162.9,147.8 163.9,146.0 164.9,143.5 166.0,141.5 167.0,140.7 168.0,139.5 169.1,137.3 170.1,135.4 171.1,133.3 172.2,131.3 173.2,129.8 174.2,128.2 175.2,126.1 176.3,124.7 177.3,122.5 178.3,120.7 179.4,117.5 180.4,116.2 181.4,114.9 182.4,113.1 183.5,111.2 184.5,110.1 185.5,108.3 186.6,106.8 187.6,104.7 188.6,103.7 189.7,102.3 190.7,100.9 191.7,99.2 192.8,97.2 193.8,95.7 194.8,93.5 195.8,92.6 196.9,90.5 197.9,89.3 198.9,88.0 200.0,87.4 201.0,85.8 202.0,83.6 203.1,82.1 204.1,81.3 205.1,79.8 206.1,79.1 207.2,77.9 208.2,76.8 209.2,75.0 210.3,74.2 211.3,73.6 212.3,72.8 213.3,71.8 214.4,71.2 215.4,71.0 216.4,69.5 217.5,69.5 218.5,69.2 219.5,68.2 220.6,67.9 221.6,68.0 222.6,67.4 223.7,68.0 224.7,67.8 225.7,68.4 226.7,67.1 227.8,68.5 228.8,68.0 229.8,69.4 230.9,70.3 231.9,71.0 232.9,71.8 234.0,72.6 235.0,73.1 236.0,74.7 237.0,75.6 238.1,77.3 239.1,78.0 240.1,79.5 241.2,80.9 242.2,82.1 243.2,83.4 244.2,84.8 245.3,86.2 246.3,88.1 247.3,89.8 248.4,91.0 249.4,93.8 250.4,95.3 251.5,96.4 252.5,100.0 253.5,101.2 254.6,102.7 255.6,105.7 256.6,106.2 257.6,110.3 258.7,110.8 259.7,112.9 260.7,115.2 261.8,117.7 262.8,119.6 263.8,122.1 264.9,123.6 265.9,126.4 266.9,128.1 267.9,129.7 269.0,132.6 270.0,134.3 271.0,136.2 272.1,138.9 273.1,140.1 274.1,142.7 275.1,145.7 276.2,147.4 277.2,149.8 278.2,151.9 279.3,153.5 280.3,155.8 281.3,157.0 282.4,159.5 283.4,160.6 284.4,162.8 285.5,164.1 286.5,166.2 287.5,167.7 288.5,169.4 289.6,170.2 290.6,171.4 291.6,172.3 292.7,173.8 293.7,175.4 294.7,176.7 295.8,177.6 296.8,178.7 297.8,179.1 298.8,180.2 299.9,181.8 300.9,182.6 301.9,182.6 303.0,183.8 304.0,184.7 305.0,184.9 306.1,186.3 307.1,186.9 308.1,187.7 309.1,189.0 310.2,188.6 311.2,190.0 312.2,190.4 313.3,191.0 314.3,191.0 315.3,191.7 316.4,192.1 317.4,193.1 318.4,192.8 319.4,193.7 320.5,193.3 321.5,193.5 322.5,193.8 323.6,193.1 324.6,193.8 325.6,193.8 326.7,194.1 327.7,194.2 328.7,193.8 329.7,193.8 330.8,194.6 331.8,193.6 332.8,193.6 333.9,193.2 334.9,193.1 335.9,193.5 336.9,193.2 338.0,191.7 339.0,191.9 340.0,192.1 341.1,191.0 342.1,190.7 343.1,190.7 344.2,190.3 345.2,189.4 346.2,188.1 347.2,187.7 348.3,187.2 349.3,186.4 350.3,185.6 351.4,186.0 352.4,184.7 353.4,184.2 354.5,183.7 355.5,182.8 356.5,181.9 357.6,181.3 358.6,181.1 359.6,180.1 360.6,178.4 361.7,178.9 362.7,178.5 363.7,177.1 364.8,176.3 365.8,175.6 366.8,175.5 367.9,174.0 368.9,174.0 369.9,173.5 370.9,172.6 372.0,171.7 373.0,170.6" stroke="#FB6501"/>
<path d="M64.0,217.3 65.0,217.3 66.1,216.7 67.1,216.8 68.1,216.3 69.2,217.0 70.2,216.8 71.2,215.6 72.2,216.2 73.3,215.6 74.3,215.2 75.3,215.1 76.4,214.8 77.4,213.9 78.4,215.1 79.5,213.5 80.5,212.7 81.5,213.3 82.5,213.0 83.6,212.4 84.6,211.6 85.6,212.5 86.7,211.6 87.7,211.4 88.7,210.8 89.8,210.6 90.8,210.0 91.8,210.1 92.8,209.6 93.9,209.5 94.9,209.2 95.9,208.2 97.0,207.5 98.0,209.5 99.0,207.4 100.1,206.6 101.1,206.7 102.1,205.4 103.1,205.7 104.2,204.7 105.2,204.4 106.2,203.7 107.3,203.0 108.3,202.4 109.3,201.4 110.3,199.8 111.4,200.5 112.4,198.8 113.4,197.9 114.5,197.6 115.5,197.0 116.5,194.8 117.6,195.0 118.6,193.3 119.6,193.1 120.7,192.5 121.7,191.5 122.7,190.6 123.7,189.5 124.8,188.9 125.8,188.1 126.8,187.1 127.9,185.7 128.9,184.9 129.9,184.6 130.9,183.4 132.0,182.0 133.0,181.3 134.0,180.1 135.1,179.1 136.1,177.7 137.1,176.2 138.2,174.7 139.2,173.7 140.2,171.5 141.2,170.8 142.3,168.0 143.3,167.1 144.3,165.5 145.4,164.2 146.4,163.3 147.4,160.6 148.5,158.9 149.5,156.7 150.5,156.5 151.6,153.8 152.6,153.3 153.6,151.5 154.6,151.4 155.7,149.0 156.7,147.7 157.7,145.8 158.8,144.5 159.8,143.2 160.8,140.6 161.9,138.7 162.9,136.8 163.9,134.6 164.9,132.5 166.0,130.9 167.0,129.4 168.0,127.5 169.1,124.5 170.1,122.8 171.1,121.0 172.2,119.3 173.2,117.1 174.2,115.1 175.2,113.2 176.3,111.3 177.3,108.1 178.3,106.7 179.4,104.8 180.4,102.8 181.4,100.4 182.4,97.8 183.5,95.9 184.5,94.5 185.5,92.7 186.6,91.2 187.6,89.8 188.6,87.2 189.7,85.9 190.7,83.3 191.7,82.7 192.8,80.7 193.8,78.5 194.8,77.1 195.8,75.8 196.9,73.9 197.9,71.9 198.9,70.2 200.0,68.8 201.0,66.9 202.0,65.4 203.1,64.2 204.1,62.9 205.1,61.6 206.1,59.9 207.2,58.5 208.2,57.5 209.2,56.0 210.3,55.1 211.3,54.6 212.3,53.6 213.3,52.1 214.4,51.5 215.4,50.3 216.4,50.3 217.5,49.4 218.5,48.7 219.5,48.4 220.6,48.5 221.6,47.9 222.6,47.5 223.7,47.8 224.7,47.2 225.7,47.0 226.7,47.6 227.8,46.9 228.8,48.3 229.8,49.2 230.9,50.2 231.9,51.5 232.9,52.1 234.0,53.3 235.0,53.8 236.0,55.4 237.0,56.6 238.1,58.2 239.1,60.0 240.1,60.9 241.2,62.6 242.2,63.3 243.2,65.2 244.2,66.1 245.3,68.2 246.3,69.9 247.3,71.9 248.4,73.9 249.4,75.8 250.4,77.9 251.5,80.7 252.5,82.4 253.5,83.8 254.6,87.1 255.6,89.5 256.6,92.1 257.6,94.7 258.7,96.1 259.7,98.8 260.7,101.1 261.8,102.8 262.8,104.9 263.8,108.6 264.9,110.1 265.9,112.6 266.9,115.0 267.9,117.3 269.0,119.8 270.0,121.5 271.0,124.2 272.1,126.7 273.1,128.8 274.1,131.4 275.1,134.1 276.2,136.7 277.2,138.6 278.2,141.4 279.3,143.8 280.3,146.3 281.3,148.2 282.4,150.6 283.4,152.1 284.4,154.0 285.5,156.8 286.5,157.7 287.5,159.2 288.5,161.0 289.6,163.0 290.6,163.7 291.6,165.9 292.7,167.6 293.7,168.8 294.7,169.7 295.8,170.5 296.8,171.6 297.8,173.0 298.8,174.6 299.9,175.3 300.9,176.4 301.9,177.0 303.0,178.5 304.0,178.6 305.0,179.2 306.1,180.3 307.1,180.9 308.1,182.2 309.1,183.2 310.2,183.7 311.2,183.7 312.2,184.4 313.3,185.6 314.3,185.6 315.3,186.7 316.4,186.4 317.4,187.2 318.4,187.9 319.4,187.8 320.5,188.7 321.5,189.1 322.5,189.5 323.6,188.9 324.6,189.1 325.6,189.2 326.7,189.4 327.7,188.8 328.7,189.5 329.7,189.6 330.8,188.8 331.8,188.6 332.8,188.8 333.9,189.3 334.9,188.6 335.9,187.8 336.9,187.7 338.0,186.8 339.0,187.4 340.0,186.2 341.1,186.1 342.1,184.8 343.1,184.7 344.2,183.6 345.2,183.6 346.2,183.2 347.2,182.5 348.3,181.6 349.3,181.1 350.3,179.5 351.4,178.8 352.4,178.4 353.4,178.2 354.5,177.1 355.5,176.5 356.5,175.0 357.6,174.7 358.6,173.8 359.6,173.4 360.6,173.3 361.7,172.1 362.7,171.4 363.7,170.1 364.8,169.5 365.8,169.0 366.8,168.1 367.9,166.6 368.9,166.8 369.9,166.0 370.9,164.9 372.0,164.3 373.0,163.4" stroke="#4a94d6"/>
</g>
<g clip-path="url(#photoclip)">
<rect x="69.3" y="4.7" width="219.2" height="40.8" fill="#b7b2b9"/>
<g filter="url(#blur2)">
<rect x="60" y="42.2" width="240" height="8" fill="#cacbc6"/>
<rect x="60" y="0" width="240" height="8" fill="#b0aab2"/>
<rect x="64" y="0" width="6.5" height="50" fill="#9f98a2"/>
<rect x="283" y="0" width="10" height="50" fill="#c0bbc0"/>
<rect x="75.9" y="8.5" width="13" height="13.5" fill="#d8d3d8" opacity="0.9"/>
<rect x="75.9" y="21.0" width="13" height="23.0" fill="#c4bfc4" opacity="0.6"/>
<rect x="98.1" y="8.5" width="13" height="14.3" fill="#d8d3d8" opacity="0.9"/>
<rect x="98.1" y="21.8" width="13" height="22.2" fill="#c4bfc4" opacity="0.6"/>
<rect x="117.1" y="8.5" width="13" height="14.3" fill="#d8d3d8" opacity="0.9"/>
<rect x="117.1" y="21.8" width="13" height="22.2" fill="#c4bfc4" opacity="0.6"/>
<rect x="135.8" y="8.5" width="13" height="15.1" fill="#d8d3d8" opacity="0.9"/>
<rect x="135.8" y="22.6" width="13" height="21.4" fill="#c4bfc4" opacity="0.6"/>
<rect x="156.5" y="8.5" width="13" height="14.1" fill="#d8d3d8" opacity="0.9"/>
<rect x="156.5" y="21.6" width="13" height="22.4" fill="#c4bfc4" opacity="0.6"/>
<rect x="174.7" y="8.5" width="13" height="14.7" fill="#d8d3d8" opacity="0.9"/>
<rect x="174.7" y="22.2" width="13" height="21.8" fill="#c4bfc4" opacity="0.6"/>
<rect x="192.8" y="8.5" width="13" height="13.1" fill="#d8d3d8" opacity="0.9"/>
<rect x="192.8" y="20.6" width="13" height="23.4" fill="#c4bfc4" opacity="0.6"/>
<rect x="209.8" y="8.5" width="13" height="14.9" fill="#d8d3d8" opacity="0.9"/>
<rect x="209.8" y="22.4" width="13" height="21.6" fill="#c4bfc4" opacity="0.6"/>
<rect x="228.5" y="8.5" width="13" height="13.3" fill="#d8d3d8" opacity="0.9"/>
<rect x="228.5" y="20.8" width="13" height="23.2" fill="#c4bfc4" opacity="0.6"/>
<rect x="248.5" y="8.5" width="13" height="14.8" fill="#d8d3d8" opacity="0.9"/>
<rect x="248.5" y="22.3" width="13" height="21.7" fill="#c4bfc4" opacity="0.6"/>
<rect x="267.9" y="8.5" width="13" height="13.0" fill="#d8d3d8" opacity="0.9"/>
<rect x="267.9" y="20.5" width="13" height="23.5" fill="#c4bfc4" opacity="0.6"/>
</g>
<g filter="url(#blur1)">
<path d="M76.9,19 L87.9,19 L84.9,43 L79.9,43 Z" fill="#d8d3d6" opacity="0.55"/>
<linearGradient id="lqB" x1="0" y1="0" x2="1" y2="0"><stop offset="0" stop-color="rgb(139,158,142)"/><stop offset="0.3" stop-color="rgb(162,176,158)"/><stop offset="0.45" stop-color="rgb(200,198,179)"/><stop offset="0.6" stop-color="rgb(162,176,158)"/><stop offset="0.75" stop-color="rgb(200,198,179)"/><stop offset="1" stop-color="rgb(139,158,142)"/></linearGradient>
<path d="M98.9,21.8 L110.3,21.8 L108.5,35.3 Q107.3,43.6 104.6,43.6 Q101.9,43.6 100.7,35.3 Z" fill="url(#lqB)"/>
<rect x="99.0" y="21.8" width="11.2" height="2.2" fill="rgb(139,158,142)" opacity="0.6"/>
<linearGradient id="lqC" x1="0" y1="0" x2="1" y2="0"><stop offset="0" stop-color="rgb(115,158,154)"/><stop offset="0.3" stop-color="rgb(134,176,172)"/><stop offset="0.45" stop-color="rgb(168,198,194)"/><stop offset="0.6" stop-color="rgb(134,176,172)"/><stop offset="0.75" stop-color="rgb(168,198,194)"/><stop offset="1" stop-color="rgb(115,158,154)"/></linearGradient>
<path d="M117.9,21.8 L129.3,21.8 L127.5,35.3 Q126.3,43.6 123.6,43.6 Q120.9,43.6 119.7,35.3 Z" fill="url(#lqC)"/>
<rect x="118.0" y="21.8" width="11.2" height="2.2" fill="rgb(115,158,154)" opacity="0.6"/>
<linearGradient id="lqD" x1="0" y1="0" x2="1" y2="0"><stop offset="0" stop-color="rgb(87,151,140)"/><stop offset="0.3" stop-color="rgb(102,168,156)"/><stop offset="0.45" stop-color="rgb(131,189,176)"/><stop offset="0.6" stop-color="rgb(102,168,156)"/><stop offset="0.75" stop-color="rgb(131,189,176)"/><stop offset="1" stop-color="rgb(87,151,140)"/></linearGradient>
<path d="M136.6,22.6 L148.0,22.6 L146.2,35.6 Q145.0,43.6 142.3,43.6 Q139.6,43.6 138.4,35.6 Z" fill="url(#lqD)"/>
<rect x="136.7" y="22.6" width="11.2" height="2.2" fill="rgb(87,151,140)" opacity="0.6"/>
<linearGradient id="lqE" x1="0" y1="0" x2="1" y2="0"><stop offset="0" stop-color="rgb(75,149,140)"/><stop offset="0.3" stop-color="rgb(88,166,156)"/><stop offset="0.45" stop-color="rgb(115,187,176)"/><stop offset="0.6" stop-color="rgb(88,166,156)"/><stop offset="0.75" stop-color="rgb(115,187,176)"/><stop offset="1" stop-color="rgb(75,149,140)"/></linearGradient>
<path d="M157.3,21.6 L168.7,21.6 L166.9,35.2 Q165.7,43.6 163.0,43.6 Q160.3,43.6 159.1,35.2 Z" fill="url(#lqE)"/>
<rect x="157.4" y="21.6" width="11.2" height="2.2" fill="rgb(75,149,140)" opacity="0.6"/>
<linearGradient id="lqF" x1="0" y1="0" x2="1" y2="0"><stop offset="0" stop-color="rgb(63,149,140)"/><stop offset="0.3" stop-color="rgb(74,166,156)"/><stop offset="0.45" stop-color="rgb(99,187,176)"/><stop offset="0.6" stop-color="rgb(74,166,156)"/><stop offset="0.75" stop-color="rgb(99,187,176)"/><stop offset="1" stop-color="rgb(63,149,140)"/></linearGradient>
<path d="M175.5,22.2 L186.9,22.2 L185.1,35.5 Q183.9,43.6 181.2,43.6 Q178.5,43.6 177.3,35.5 Z" fill="url(#lqF)"/>
<rect x="175.6" y="22.2" width="11.2" height="2.2" fill="rgb(63,149,140)" opacity="0.6"/>
<linearGradient id="lqG" x1="0" y1="0" x2="1" y2="0"><stop offset="0" stop-color="rgb(56,149,142)"/><stop offset="0.3" stop-color="rgb(66,166,158)"/><stop offset="0.45" stop-color="rgb(89,187,179)"/><stop offset="0.6" stop-color="rgb(66,166,158)"/><stop offset="0.75" stop-color="rgb(89,187,179)"/><stop offset="1" stop-color="rgb(56,149,142)"/></linearGradient>
<path d="M193.6,20.6 L205.0,20.6 L203.2,34.9 Q202.0,43.6 199.3,43.6 Q196.6,43.6 195.4,34.9 Z" fill="url(#lqG)"/>
<rect x="193.7" y="20.6" width="11.2" height="2.2" fill="rgb(56,149,142)" opacity="0.6"/>
<linearGradient id="lqH" x1="0" y1="0" x2="1" y2="0"><stop offset="0" stop-color="rgb(51,145,142)"/><stop offset="0.3" stop-color="rgb(60,162,158)"/><stop offset="0.45" stop-color="rgb(83,183,179)"/><stop offset="0.6" stop-color="rgb(60,162,158)"/><stop offset="0.75" stop-color="rgb(83,183,179)"/><stop offset="1" stop-color="rgb(51,145,142)"/></linearGradient>
<path d="M210.6,22.4 L222.0,22.4 L220.2,35.5 Q219.0,43.6 216.3,43.6 Q213.6,43.6 212.4,35.5 Z" fill="url(#lqH)"/>
<rect x="210.7" y="22.4" width="11.2" height="2.2" fill="rgb(51,145,142)" opacity="0.6"/>
<linearGradient id="lqI" x1="0" y1="0" x2="1" y2="0"><stop offset="0" stop-color="rgb(25,147,144)"/><stop offset="0.3" stop-color="rgb(30,164,160)"/><stop offset="0.45" stop-color="rgb(48,185,181)"/><stop offset="0.6" stop-color="rgb(30,164,160)"/><stop offset="0.75" stop-color="rgb(48,185,181)"/><stop offset="1" stop-color="rgb(25,147,144)"/></linearGradient>
<path d="M229.3,20.8 L240.7,20.8 L238.9,34.9 Q237.7,43.6 235.0,43.6 Q232.3,43.6 231.1,34.9 Z" fill="url(#lqI)"/>
<rect x="229.4" y="20.8" width="11.2" height="2.2" fill="rgb(25,147,144)" opacity="0.6"/>
<linearGradient id="lqJ" x1="0" y1="0" x2="1" y2="0"><stop offset="0" stop-color="rgb(37,149,144)"/><stop offset="0.3" stop-color="rgb(44,166,160)"/><stop offset="0.45" stop-color="rgb(64,187,181)"/><stop offset="0.6" stop-color="rgb(44,166,160)"/><stop offset="0.75" stop-color="rgb(64,187,181)"/><stop offset="1" stop-color="rgb(37,149,144)"/></linearGradient>
<path d="M249.3,22.3 L260.7,22.3 L258.9,35.5 Q257.7,43.6 255.0,43.6 Q252.3,43.6 251.1,35.5 Z" fill="url(#lqJ)"/>
<rect x="249.4" y="22.3" width="11.2" height="2.2" fill="rgb(37,149,144)" opacity="0.6"/>
<linearGradient id="lqK" x1="0" y1="0" x2="1" y2="0"><stop offset="0" stop-color="rgb(34,149,144)"/><stop offset="0.3" stop-color="rgb(40,166,160)"/><stop offset="0.45" stop-color="rgb(60,187,181)"/><stop offset="0.6" stop-color="rgb(40,166,160)"/><stop offset="0.75" stop-color="rgb(60,187,181)"/><stop offset="1" stop-color="rgb(34,149,144)"/></linearGradient>
<path d="M268.7,20.5 L280.1,20.5 L278.3,34.8 Q277.1,43.6 274.4,43.6 Q271.7,43.6 270.5,34.8 Z" fill="url(#lqK)"/>
<rect x="268.8" y="20.5" width="11.2" height="2.2" fill="rgb(34,149,144)" opacity="0.6"/>
</g>
<linearGradient id="fadeb" x1="0" y1="0" x2="0" y2="1"><stop offset="0" stop-color="#b8b6b8" stop-opacity="0"/><stop offset="1" stop-color="#c0c0bc" stop-opacity="0.55"/></linearGradient>
<rect x="69" y="30" width="220" height="16" fill="url(#fadeb)"/>
<text x="82.6" y="17.0" text-anchor="middle" font-family='"Liberation Serif", "Times New Roman", serif' font-weight="bold" font-size="7.5" stroke="#000" stroke-width="0.3" fill="#0a0a0a">A</text>
<text x="104.6" y="17.0" text-anchor="middle" font-family='"Liberation Serif", "Times New Roman", serif' font-weight="bold" font-size="7.5" stroke="#000" stroke-width="0.3" fill="#0a0a0a">B</text>
<text x="122.8" y="17.0" text-anchor="middle" font-family='"Liberation Serif", "Times New Roman", serif' font-weight="bold" font-size="7.5" stroke="#000" stroke-width="0.3" fill="#0a0a0a">C</text>
<text x="143.6" y="17.0" text-anchor="middle" font-family='"Liberation Serif", "Times New Roman", serif' font-weight="bold" font-size="7.5" stroke="#000" stroke-width="0.3" fill="#0a0a0a">D</text>
<text x="163.6" y="17.0" text-anchor="middle" font-family='"Liberation Serif", "Times New Roman", serif' font-weight="bold" font-size="7.5" stroke="#000" stroke-width="0.3" fill="#0a0a0a">E</text>
<text x="181.3" y="17.0" text-anchor="middle" font-family='"Liberation Serif", "Times New Roman", serif' font-weight="bold" font-size="7.5" stroke="#000" stroke-width="0.3" fill="#0a0a0a">F</text>
<text x="200.5" y="17.0" text-anchor="middle" font-family='"Liberation Serif", "Times New Roman", serif' font-weight="bold" font-size="7.5" stroke="#000" stroke-width="0.3" fill="#0a0a0a">G</text>
<text x="218.6" y="17.0" text-anchor="middle" font-family='"Liberation Serif", "Times New Roman", serif' font-weight="bold" font-size="7.5" stroke="#000" stroke-width="0.3" fill="#0a0a0a">H</text>
<text x="234.9" y="17.0" text-anchor="middle" font-family='"Liberation Serif", "Times New Roman", serif' font-weight="bold" font-size="7.5" stroke="#000" stroke-width="0.3" fill="#0a0a0a">I</text>
<text x="253.1" y="17.0" text-anchor="middle" font-family='"Liberation Serif", "Times New Roman", serif' font-weight="bold" font-size="7.5" stroke="#000" stroke-width="0.3" fill="#0a0a0a">J</text>
<text x="275.1" y="17.0" text-anchor="middle" font-family='"Liberation Serif", "Times New Roman", serif' font-weight="bold" font-size="7.5" stroke="#000" stroke-width="0.3" fill="#0a0a0a">K</text>
</g>
<g stroke="#000" fill="none">
<line x1="64.2" y1="42.5" x2="64.2" y2="235.6" stroke-width="1.8"/>
<line x1="63.1" y1="234.8" x2="373.8" y2="234.8" stroke-width="1.8"/>
<line x1="59.8" y1="234.7" x2="64" y2="234.7" stroke-width="1.4"/>
<line x1="59.8" y1="202.8" x2="64" y2="202.8" stroke-width="1.4"/>
<line x1="59.8" y1="170.9" x2="64" y2="170.9" stroke-width="1.4"/>
<line x1="59.8" y1="139.1" x2="64" y2="139.1" stroke-width="1.4"/>
<line x1="59.8" y1="107.2" x2="64" y2="107.2" stroke-width="1.4"/>
<line x1="59.8" y1="75.3" x2="64" y2="75.3" stroke-width="1.4"/>
<line x1="59.8" y1="43.4" x2="64" y2="43.4" stroke-width="1.4"/>
<line x1="62" y1="218.8" x2="64" y2="218.8" stroke-width="1.2"/>
<line x1="62" y1="186.9" x2="64" y2="186.9" stroke-width="1.2"/>
<line x1="62" y1="155.0" x2="64" y2="155.0" stroke-width="1.2"/>
<line x1="62" y1="123.1" x2="64" y2="123.1" stroke-width="1.2"/>
<line x1="62" y1="91.2" x2="64" y2="91.2" stroke-width="1.2"/>
<line x1="62" y1="59.4" x2="64" y2="59.4" stroke-width="1.2"/>
<line x1="64.0" y1="234.8" x2="64.0" y2="238" stroke-width="1.4"/>
<line x1="167.0" y1="234.8" x2="167.0" y2="238" stroke-width="1.4"/>
<line x1="270.0" y1="234.8" x2="270.0" y2="238" stroke-width="1.4"/>
<line x1="373.0" y1="234.8" x2="373.0" y2="238" stroke-width="1.4"/>
<line x1="115.5" y1="234.8" x2="115.5" y2="236.8" stroke-width="1.2"/>
<line x1="218.5" y1="234.8" x2="218.5" y2="236.8" stroke-width="1.2"/>
<line x1="321.5" y1="234.8" x2="321.5" y2="236.8" stroke-width="1.2"/>
</g>
<text x="57.2" y="236.5" text-anchor="end" font-family='"Liberation Serif", "Times New Roman", serif' font-weight="bold" font-size="7.2" stroke="#000" stroke-width="0.3" textLength="12.2" lengthAdjust="spacingAndGlyphs">0.0</text>
<text x="57.2" y="204.6" text-anchor="end" font-family='"Liberation Serif", "Times New Roman", serif' font-weight="bold" font-size="7.2" stroke="#000" stroke-width="0.3" textLength="12.2" lengthAdjust="spacingAndGlyphs">0.1</text>
<text x="57.2" y="172.7" text-anchor="end" font-family='"Liberation Serif", "Times New Roman", serif' font-weight="bold" font-size="7.2" stroke="#000" stroke-width="0.3" textLength="12.2" lengthAdjust="spacingAndGlyphs">0.2</text>
<text x="57.2" y="140.9" text-anchor="end" font-family='"Liberation Serif", "Times New Roman", serif' font-weight="bold" font-size="7.2" stroke="#000" stroke-width="0.3" textLength="12.2" lengthAdjust="spacingAndGlyphs">0.3</text>
<text x="57.2" y="109.0" text-anchor="end" font-family='"Liberation Serif", "Times New Roman", serif' font-weight="bold" font-size="7.2" stroke="#000" stroke-width="0.3" textLength="12.2" lengthAdjust="spacingAndGlyphs">0.4</text>
<text x="57.2" y="77.1" text-anchor="end" font-family='"Liberation Serif", "Times New Roman", serif' font-weight="bold" font-size="7.2" stroke="#000" stroke-width="0.3" textLength="12.2" lengthAdjust="spacingAndGlyphs">0.5</text>
<text x="57.2" y="45.2" text-anchor="end" font-family='"Liberation Serif", "Times New Roman", serif' font-weight="bold" font-size="7.2" stroke="#000" stroke-width="0.3" textLength="12.2" lengthAdjust="spacingAndGlyphs">0.6</text>
<text x="64.0" y="247.4" text-anchor="middle" font-family='"Liberation Serif", "Times New Roman", serif' font-weight="bold" font-size="7.5" stroke="#000" stroke-width="0.25" textLength="13.8" lengthAdjust="spacingAndGlyphs">500</text>
<text x="167.0" y="247.4" text-anchor="middle" font-family='"Liberation Serif", "Times New Roman", serif' font-weight="bold" font-size="7.5" stroke="#000" stroke-width="0.25" textLength="13.8" lengthAdjust="spacingAndGlyphs">600</text>
<text x="270.0" y="247.4" text-anchor="middle" font-family='"Liberation Serif", "Times New Roman", serif' font-weight="bold" font-size="7.5" stroke="#000" stroke-width="0.25" textLength="13.8" lengthAdjust="spacingAndGlyphs">700</text>
<text x="373.0" y="247.4" text-anchor="middle" font-family='"Liberation Serif", "Times New Roman", serif' font-weight="bold" font-size="7.5" stroke="#000" stroke-width="0.25" textLength="13.8" lengthAdjust="spacingAndGlyphs">800</text>
<text x="177.3" y="254.9" font-family='"Liberation Serif", "Times New Roman", serif' font-weight="bold" font-size="9.8" stroke="#000" stroke-width="0.2" textLength="81.7" lengthAdjust="spacingAndGlyphs">Wavelength(nm)</text>
<text transform="translate(40.9,158.9) rotate(-90)" font-family='"Liberation Serif", "Times New Roman", serif' font-weight="bold" font-size="11" stroke="#000" stroke-width="0.25" textLength="49.2" lengthAdjust="spacingAndGlyphs">Absorbance</text>
<text x="3.8" y="133.1" font-family='"Liberation Serif", "Times New Roman", serif' font-size="12.2" textLength="13.1" lengthAdjust="spacingAndGlyphs">(<tspan font-weight="bold">a</tspan>)</text>
<rect x="288.9" y="46.4" width="73.5" height="103.8" fill="#fff" stroke="#a0a0a0" stroke-width="0.8"/>
<line x1="289.6" y1="51.6" x2="309.3" y2="51.6" stroke="#555" stroke-width="1.5"/>
<text x="310.8" y="54.0" font-family='"Liberation Serif", "Times New Roman", serif' font-weight="bold" font-size="6.8" stroke="#000" stroke-width="0.2" textLength="28.8" lengthAdjust="spacingAndGlyphs">A Blank</text>
<line x1="289.6" y1="61.0" x2="309.3" y2="61.0" stroke="#F14040" stroke-width="1.5"/>
<text x="310.8" y="63.4" font-family='"Liberation Serif", "Times New Roman", serif' font-weight="bold" font-size="6.8" stroke="#000" stroke-width="0.2" textLength="38.8" lengthAdjust="spacingAndGlyphs">B 1×10<tspan font-size="4.5" dx="0.3" dy="-2.5">-9</tspan><tspan dy="2.5"> M</tspan></text>
<line x1="289.6" y1="70.5" x2="309.3" y2="70.5" stroke="#1A6FDF" stroke-width="1.5"/>
<text x="310.8" y="72.9" font-family='"Liberation Serif", "Times New Roman", serif' font-weight="bold" font-size="6.8" stroke="#000" stroke-width="0.2" textLength="38.8" lengthAdjust="spacingAndGlyphs">C 4×10<tspan font-size="4.5" dx="0.3" dy="-2.5">-8</tspan><tspan dy="2.5"> M</tspan></text>
<line x1="289.6" y1="79.9" x2="309.3" y2="79.9" stroke="#37AD6B" stroke-width="1.5"/>
<text x="310.8" y="82.3" font-family='"Liberation Serif", "Times New Roman", serif' font-weight="bold" font-size="6.8" stroke="#000" stroke-width="0.2" textLength="38.8" lengthAdjust="spacingAndGlyphs">D 8×10<tspan font-size="4.5" dx="0.3" dy="-2.5">-8</tspan><tspan dy="2.5"> M</tspan></text>
<line x1="289.6" y1="89.3" x2="309.3" y2="89.3" stroke="#B177DE" stroke-width="1.5"/>
<text x="310.8" y="91.7" font-family='"Liberation Serif", "Times New Roman", serif' font-weight="bold" font-size="6.8" stroke="#000" stroke-width="0.2" textLength="48.8" lengthAdjust="spacingAndGlyphs">E 1.20×10<tspan font-size="4.5" dx="0.3" dy="-2.5">-7</tspan><tspan dy="2.5"> M</tspan></text>
<line x1="289.6" y1="98.8" x2="309.3" y2="98.8" stroke="#E0A020" stroke-width="1.5"/>
<text x="310.8" y="101.2" font-family='"Liberation Serif", "Times New Roman", serif' font-weight="bold" font-size="6.8" stroke="#000" stroke-width="0.2" textLength="49.0" lengthAdjust="spacingAndGlyphs">F 1.60×10<tspan font-size="4.5" dx="0.3" dy="-2.5">-7</tspan><tspan dy="2.5"> M</tspan></text>
<line x1="289.6" y1="108.2" x2="309.3" y2="108.2" stroke="#00CBCC" stroke-width="1.5"/>
<text x="310.8" y="110.6" font-family='"Liberation Serif", "Times New Roman", serif' font-weight="bold" font-size="6.8" stroke="#000" stroke-width="0.2" textLength="39.6" lengthAdjust="spacingAndGlyphs">G 2×10<tspan font-size="4.5" dx="0.3" dy="-2.5">-7</tspan><tspan dy="2.5"> M</tspan></text>
<line x1="289.6" y1="117.6" x2="309.3" y2="117.6" stroke="#7D4E4E" stroke-width="1.5"/>
<text x="310.8" y="120.0" font-family='"Liberation Serif", "Times New Roman", serif' font-weight="bold" font-size="6.8" stroke="#000" stroke-width="0.2" textLength="49.8" lengthAdjust="spacingAndGlyphs">H 2.40×10<tspan font-size="4.5" dx="0.3" dy="-2.5">-7</tspan><tspan dy="2.5"> M</tspan></text>
<line x1="289.6" y1="127.0" x2="309.3" y2="127.0" stroke="#8E8E00" stroke-width="1.5"/>
<text x="310.8" y="129.4" font-family='"Liberation Serif", "Times New Roman", serif' font-weight="bold" font-size="6.8" stroke="#000" stroke-width="0.2" textLength="47.5" lengthAdjust="spacingAndGlyphs">I 2.80×10<tspan font-size="4.5" dx="0.3" dy="-2.5">-7</tspan><tspan dy="2.5"> M</tspan></text>
<line x1="289.6" y1="136.5" x2="309.3" y2="136.5" stroke="#FB6501" stroke-width="1.5"/>
<text x="310.8" y="138.9" font-family='"Liberation Serif", "Times New Roman", serif' font-weight="bold" font-size="6.8" stroke="#000" stroke-width="0.2" textLength="47.5" lengthAdjust="spacingAndGlyphs">J 3.20×10<tspan font-size="4.5" dx="0.3" dy="-2.5">-7</tspan><tspan dy="2.5"> M</tspan></text>
<line x1="289.6" y1="145.9" x2="309.3" y2="145.9" stroke="#4a94d6" stroke-width="1.5"/>
<text x="310.8" y="148.3" font-family='"Liberation Serif", "Times New Roman", serif' font-weight="bold" font-size="6.8" stroke="#000" stroke-width="0.2" textLength="49.8" lengthAdjust="spacingAndGlyphs">K 3.60×10<tspan font-size="4.5" dx="0.3" dy="-2.5">-7</tspan><tspan dy="2.5"> M</tspan></text>
<rect x="79.2" y="276.6" width="167.3" height="84.8" fill="#fff" stroke="#707070" stroke-width="0.9"/>
<line x1="79.2" y1="286.0" x2="246.5" y2="286.0" stroke="#d0d0d0" stroke-width="0.7"/>
<line x1="79.2" y1="295.4" x2="246.5" y2="295.4" stroke="#d0d0d0" stroke-width="0.7"/>
<line x1="79.2" y1="304.9" x2="246.5" y2="304.9" stroke="#d0d0d0" stroke-width="0.7"/>
<line x1="79.2" y1="314.3" x2="246.5" y2="314.3" stroke="#d0d0d0" stroke-width="0.7"/>
<line x1="79.2" y1="323.7" x2="246.5" y2="323.7" stroke="#d0d0d0" stroke-width="0.7"/>
<line x1="79.2" y1="333.1" x2="246.5" y2="333.1" stroke="#d0d0d0" stroke-width="0.7"/>
<line x1="79.2" y1="342.5" x2="246.5" y2="342.5" stroke="#d0d0d0" stroke-width="0.7"/>
<line x1="79.2" y1="352.0" x2="246.5" y2="352.0" stroke="#d0d0d0" stroke-width="0.7"/>
<line x1="168.6" y1="276.6" x2="168.6" y2="361.4" stroke="#d0d0d0" stroke-width="0.7"/>
<text x="80.9" y="283.6" font-family='"Liberation Sans", Arial, sans-serif' font-size="6.7" fill="#111" textLength="25.8" lengthAdjust="spacingAndGlyphs">Equation</text>
<text x="191.8" y="283.6" font-family='"Liberation Sans", Arial, sans-serif' font-size="6.4" fill="#111" textLength="32.3" lengthAdjust="spacingAndGlyphs">y = a + b*x</text>
<text x="80.9" y="293.0" font-family='"Liberation Sans", Arial, sans-serif' font-size="6.7" fill="#111" textLength="11.7" lengthAdjust="spacingAndGlyphs">Plot</text>
<text x="205.9" y="293.0" font-family='"Liberation Sans", Arial, sans-serif' font-size="6.4" fill="#111" textLength="4.2" lengthAdjust="spacingAndGlyphs">B</text>
<text x="80.9" y="302.4" font-family='"Liberation Sans", Arial, sans-serif' font-size="6.7" fill="#111" textLength="21.1" lengthAdjust="spacingAndGlyphs">Weight</text>
<text x="189.7" y="302.4" font-family='"Liberation Sans", Arial, sans-serif' font-size="6.4" fill="#111" textLength="36" lengthAdjust="spacingAndGlyphs">Instrumental</text>
<text x="80.9" y="311.9" font-family='"Liberation Sans", Arial, sans-serif' font-size="6.7" fill="#111" textLength="25.8" lengthAdjust="spacingAndGlyphs">Intercept</text>
<text x="181.0" y="311.9" font-family='"Liberation Sans", Arial, sans-serif' font-size="6.4" fill="#111" textLength="53.4" lengthAdjust="spacingAndGlyphs">0.13699 ± 0.00161</text>
<text x="80.9" y="321.3" font-family='"Liberation Sans", Arial, sans-serif' font-size="6.7" fill="#111" textLength="17.1" lengthAdjust="spacingAndGlyphs">Slope</text>
<text x="181.0" y="321.3" font-family='"Liberation Sans", Arial, sans-serif' font-size="6.4" fill="#111" textLength="59.6" lengthAdjust="spacingAndGlyphs">1.139E6 ± 7885.19698</text>
<text x="80.9" y="330.7" font-family='"Liberation Sans", Arial, sans-serif' font-size="6.7" fill="#111" textLength="75.2" lengthAdjust="spacingAndGlyphs">Residual Sum of Squares</text>
<text x="195.9" y="330.7" font-family='"Liberation Sans", Arial, sans-serif' font-size="6.4" fill="#111" textLength="23.5" lengthAdjust="spacingAndGlyphs">0.52406</text>
<text x="80.9" y="340.1" font-family='"Liberation Sans", Arial, sans-serif' font-size="6.7" fill="#111" textLength="34.1" lengthAdjust="spacingAndGlyphs">Pearson's r</text>
<text x="195.9" y="340.1" font-family='"Liberation Sans", Arial, sans-serif' font-size="6.4" fill="#111" textLength="23.5" lengthAdjust="spacingAndGlyphs">0.99981</text>
<text x="80.9" y="349.5" font-family='"Liberation Sans", Arial, sans-serif' font-size="6.7" fill="#111" textLength="50.5" lengthAdjust="spacingAndGlyphs">R-Square (COD)</text>
<text x="195.9" y="349.5" font-family='"Liberation Sans", Arial, sans-serif' font-size="6.4" fill="#111" textLength="23.5" lengthAdjust="spacingAndGlyphs">0.99962</text>
<text x="80.9" y="359.0" font-family='"Liberation Sans", Arial, sans-serif' font-size="6.7" fill="#111" textLength="42.3" lengthAdjust="spacingAndGlyphs">Adj. R-Square</text>
<text x="195.9" y="359.0" font-family='"Liberation Sans", Arial, sans-serif' font-size="6.4" fill="#111" textLength="23.5" lengthAdjust="spacingAndGlyphs">0.99957</text>
<polyline points="109.8,471.3 136.5,454.6 164.2,433.2 192.2,416.5 219.9,395.0 247.5,378.0 275.3,357.6 302.4,336.3 330.7,318.9 358.4,297.9" fill="none" stroke="#000" stroke-width="1.7" stroke-linejoin="round"/>
<g stroke="#000" stroke-width="1.1"><line x1="109.8" y1="466.9" x2="109.8" y2="475.7"/><line x1="107.2" y1="466.9" x2="112.4" y2="466.9"/><line x1="107.2" y1="475.7" x2="112.4" y2="475.7"/></g>
<rect x="107.3" y="468.8" width="5" height="5" fill="#000"/>
<g stroke="#000" stroke-width="1.1"><line x1="136.5" y1="449.4" x2="136.5" y2="459.8"/><line x1="133.9" y1="449.4" x2="139.1" y2="449.4"/><line x1="133.9" y1="459.8" x2="139.1" y2="459.8"/></g>
<rect x="134.0" y="452.1" width="5" height="5" fill="#000"/>
<g stroke="#000" stroke-width="1.1"><line x1="164.2" y1="429.7" x2="164.2" y2="436.7"/><line x1="161.6" y1="429.7" x2="166.8" y2="429.7"/><line x1="161.6" y1="436.7" x2="166.8" y2="436.7"/></g>
<rect x="161.7" y="430.7" width="5" height="5" fill="#000"/>
<g stroke="#000" stroke-width="1.1"><line x1="192.2" y1="410.3" x2="192.2" y2="422.7"/><line x1="189.6" y1="410.3" x2="194.8" y2="410.3"/><line x1="189.6" y1="422.7" x2="194.8" y2="422.7"/></g>
<rect x="189.7" y="414.0" width="5" height="5" fill="#000"/>
<g stroke="#000" stroke-width="1.1"><line x1="219.9" y1="390.0" x2="219.9" y2="400.0"/><line x1="217.3" y1="390.0" x2="222.5" y2="390.0"/><line x1="217.3" y1="400.0" x2="222.5" y2="400.0"/></g>
<rect x="217.4" y="392.5" width="5" height="5" fill="#000"/>
<g stroke="#000" stroke-width="1.1"><line x1="247.5" y1="373.6" x2="247.5" y2="382.4"/><line x1="244.9" y1="373.6" x2="250.1" y2="373.6"/><line x1="244.9" y1="382.4" x2="250.1" y2="382.4"/></g>
<rect x="245.0" y="375.5" width="5" height="5" fill="#000"/>
<g stroke="#000" stroke-width="1.1"><line x1="275.3" y1="353.6" x2="275.3" y2="361.6"/><line x1="272.7" y1="353.6" x2="277.9" y2="353.6"/><line x1="272.7" y1="361.6" x2="277.9" y2="361.6"/></g>
<rect x="272.8" y="355.1" width="5" height="5" fill="#000"/>
<g stroke="#000" stroke-width="1.1"><line x1="302.4" y1="330.8" x2="302.4" y2="341.8"/><line x1="299.8" y1="330.8" x2="305.0" y2="330.8"/><line x1="299.8" y1="341.8" x2="305.0" y2="341.8"/></g>
<rect x="299.9" y="333.8" width="5" height="5" fill="#000"/>
<g stroke="#000" stroke-width="1.1"><line x1="330.7" y1="314.6" x2="330.7" y2="323.2"/><line x1="328.1" y1="314.6" x2="333.3" y2="314.6"/><line x1="328.1" y1="323.2" x2="333.3" y2="323.2"/></g>
<rect x="328.2" y="316.4" width="5" height="5" fill="#000"/>
<g stroke="#000" stroke-width="1.1"><line x1="358.4" y1="292.2" x2="358.4" y2="303.6"/><line x1="355.8" y1="292.2" x2="361.0" y2="292.2"/><line x1="355.8" y1="303.6" x2="361.0" y2="303.6"/></g>
<rect x="355.9" y="295.4" width="5" height="5" fill="#000"/>
<g stroke="#000" fill="none">
<line x1="74.4" y1="275.3" x2="74.4" y2="513.8" stroke-width="2.8"/>
<line x1="71.9" y1="509.4" x2="376.6" y2="509.4" stroke-width="2.8"/>
<line x1="69.4" y1="488.2" x2="74.4" y2="488.2" stroke-width="1.9"/>
<line x1="69.4" y1="445.8" x2="74.4" y2="445.8" stroke-width="1.9"/>
<line x1="69.4" y1="403.4" x2="74.4" y2="403.4" stroke-width="1.9"/>
<line x1="69.4" y1="360.9" x2="74.4" y2="360.9" stroke-width="1.9"/>
<line x1="69.4" y1="318.5" x2="74.4" y2="318.5" stroke-width="1.9"/>
<line x1="69.4" y1="276.1" x2="74.4" y2="276.1" stroke-width="1.9"/>
<line x1="71.3" y1="467.0" x2="74.4" y2="467.0" stroke-width="1.5"/>
<line x1="71.3" y1="424.6" x2="74.4" y2="424.6" stroke-width="1.5"/>
<line x1="71.3" y1="382.1" x2="74.4" y2="382.1" stroke-width="1.5"/>
<line x1="71.3" y1="339.7" x2="74.4" y2="339.7" stroke-width="1.5"/>
<line x1="71.3" y1="297.3" x2="74.4" y2="297.3" stroke-width="1.5"/>
<line x1="109.0" y1="509.6" x2="109.0" y2="513.6" stroke-width="1.8"/>
<line x1="143.6" y1="509.6" x2="143.6" y2="513.6" stroke-width="1.8"/>
<line x1="178.3" y1="509.6" x2="178.3" y2="513.6" stroke-width="1.8"/>
<line x1="212.9" y1="509.6" x2="212.9" y2="513.6" stroke-width="1.8"/>
<line x1="247.5" y1="509.6" x2="247.5" y2="513.6" stroke-width="1.8"/>
<line x1="282.1" y1="509.6" x2="282.1" y2="513.6" stroke-width="1.8"/>
<line x1="316.8" y1="509.6" x2="316.8" y2="513.6" stroke-width="1.8"/>
<line x1="351.4" y1="509.6" x2="351.4" y2="513.6" stroke-width="1.8"/>
<line x1="91.7" y1="509.6" x2="91.7" y2="512" stroke-width="1.5"/>
<line x1="126.3" y1="509.6" x2="126.3" y2="512" stroke-width="1.5"/>
<line x1="160.9" y1="509.6" x2="160.9" y2="512" stroke-width="1.5"/>
<line x1="195.6" y1="509.6" x2="195.6" y2="512" stroke-width="1.5"/>
<line x1="230.2" y1="509.6" x2="230.2" y2="512" stroke-width="1.5"/>
<line x1="264.8" y1="509.6" x2="264.8" y2="512" stroke-width="1.5"/>
<line x1="299.5" y1="509.6" x2="299.5" y2="512" stroke-width="1.5"/>
<line x1="334.1" y1="509.6" x2="334.1" y2="512" stroke-width="1.5"/>
<line x1="368.7" y1="509.6" x2="368.7" y2="512" stroke-width="1.5"/>
</g>
<text x="66.4" y="491.9" text-anchor="end" font-family='"Liberation Serif", "Times New Roman", serif' font-weight="bold" font-size="11" stroke="#000" stroke-width="0.3" textLength="14.6" lengthAdjust="spacingAndGlyphs">0.1</text>
<text x="66.4" y="449.5" text-anchor="end" font-family='"Liberation Serif", "Times New Roman", serif' font-weight="bold" font-size="11" stroke="#000" stroke-width="0.3" textLength="14.6" lengthAdjust="spacingAndGlyphs">0.2</text>
<text x="66.4" y="407.1" text-anchor="end" font-family='"Liberation Serif", "Times New Roman", serif' font-weight="bold" font-size="11" stroke="#000" stroke-width="0.3" textLength="14.6" lengthAdjust="spacingAndGlyphs">0.3</text>
<text x="66.4" y="364.6" text-anchor="end" font-family='"Liberation Serif", "Times New Roman", serif' font-weight="bold" font-size="11" stroke="#000" stroke-width="0.3" textLength="14.6" lengthAdjust="spacingAndGlyphs">0.4</text>
<text x="66.4" y="322.2" text-anchor="end" font-family='"Liberation Serif", "Times New Roman", serif' font-weight="bold" font-size="11" stroke="#000" stroke-width="0.3" textLength="14.6" lengthAdjust="spacingAndGlyphs">0.5</text>
<text x="66.4" y="279.8" text-anchor="end" font-family='"Liberation Serif", "Times New Roman", serif' font-weight="bold" font-size="11" stroke="#000" stroke-width="0.3" textLength="14.6" lengthAdjust="spacingAndGlyphs">0.6</text>
<text x="102.8" y="525.3" font-family='"Liberation Serif", "Times New Roman", serif' font-weight="bold" font-size="6.9" stroke="#000" stroke-width="0.25" textLength="17.6" lengthAdjust="spacingAndGlyphs">1×10<tspan font-size="4.3" dy="-2.3">-9</tspan></text>
<text x="129.2" y="525.7" font-family='"Liberation Serif", "Times New Roman", serif' font-weight="bold" font-size="6.9" stroke="#000" stroke-width="0.25" textLength="18.8" lengthAdjust="spacingAndGlyphs">4×10<tspan font-size="4.3" dy="-2.3">-8</tspan></text>
<text x="153.9" y="527.1" font-family='"Liberation Serif", "Times New Roman", serif' font-weight="bold" font-size="6.9" stroke="#000" stroke-width="0.25" textLength="18.8" lengthAdjust="spacingAndGlyphs">8×10<tspan font-size="4.3" dy="-2.3">-8</tspan></text>
<text x="182.6" y="527.3" font-family='"Liberation Serif", "Times New Roman", serif' font-weight="bold" font-size="6.9" stroke="#000" stroke-width="0.25" textLength="21.9" lengthAdjust="spacingAndGlyphs">1.2×10<tspan font-size="4.3" dy="-2.3">-7</tspan></text>
<text x="209.1" y="527.2" font-family='"Liberation Serif", "Times New Roman", serif' font-weight="bold" font-size="6.9" stroke="#000" stroke-width="0.25" textLength="23.0" lengthAdjust="spacingAndGlyphs">1.6×10<tspan font-size="4.3" dy="-2.3">-7</tspan></text>
<text x="238.9" y="526.2" font-family='"Liberation Serif", "Times New Roman", serif' font-weight="bold" font-size="6.9" stroke="#000" stroke-width="0.25" textLength="17.2" lengthAdjust="spacingAndGlyphs">2×10<tspan font-size="4.3" dy="-2.3">-7</tspan></text>
<text x="261.0" y="526.8" font-family='"Liberation Serif", "Times New Roman", serif' font-weight="bold" font-size="6.9" stroke="#000" stroke-width="0.25" textLength="23.4" lengthAdjust="spacingAndGlyphs">2.4×10<tspan font-size="4.3" dy="-2.3">-7</tspan></text>
<text x="289.4" y="526.2" font-family='"Liberation Serif", "Times New Roman", serif' font-weight="bold" font-size="6.9" stroke="#000" stroke-width="0.25" textLength="23.1" lengthAdjust="spacingAndGlyphs">2.8×10<tspan font-size="4.3" dy="-2.3">-7</tspan></text>
<text x="321.2" y="526.5" font-family='"Liberation Serif", "Times New Roman", serif' font-weight="bold" font-size="6.9" stroke="#000" stroke-width="0.25" textLength="22.4" lengthAdjust="spacingAndGlyphs">3.2×10<tspan font-size="4.3" dy="-2.3">-7</tspan></text>
<text x="350.9" y="525.7" font-family='"Liberation Serif", "Times New Roman", serif' font-weight="bold" font-size="6.9" stroke="#000" stroke-width="0.25" textLength="23.4" lengthAdjust="spacingAndGlyphs">3.6×10<tspan font-size="4.3" dy="-2.3">-7</tspan></text>
<text x="176.5" y="544.4" font-family='"Liberation Serif", "Times New Roman", serif' font-weight="bold" font-size="13" textLength="87.5" lengthAdjust="spacingAndGlyphs">Concentration (M)</text>
<text transform="translate(46.0,423.3) rotate(-90)" font-family='"Liberation Serif", "Times New Roman", serif' font-weight="bold" font-size="13.2" stroke="#000" stroke-width="0.25" textLength="60.8" lengthAdjust="spacingAndGlyphs">Absorbance</text>
<text x="3.1" y="413.1" font-family='"Liberation Serif", "Times New Roman", serif' font-size="12.2" textLength="13.8" lengthAdjust="spacingAndGlyphs">(<tspan font-weight="bold">b</tspan>)</text>
</svg>
</body></html>
